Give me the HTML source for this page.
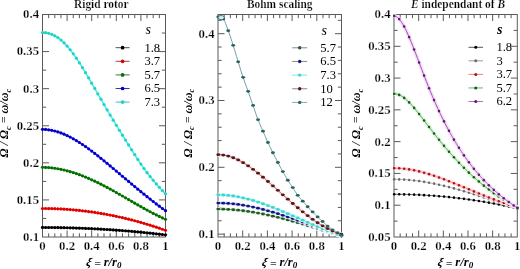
<!DOCTYPE html>
<html><head><meta charset="utf-8"><style>
html,body{margin:0;padding:0;background:#fff;}
svg{display:block;}
</style></head><body>
<svg width="520" height="269" viewBox="0 0 520 269">
<rect width="520" height="269" fill="#fff"/>
<g stroke="#5a5a5a" stroke-width="1" fill="none">
<line x1="48.65" y1="237.0" x2="48.65" y2="233.3"/>
<line x1="48.65" y1="14.5" x2="48.65" y2="18.2"/>
<line x1="54.80" y1="237.0" x2="54.80" y2="233.3"/>
<line x1="54.80" y1="14.5" x2="54.80" y2="18.2"/>
<line x1="60.95" y1="237.0" x2="60.95" y2="233.3"/>
<line x1="60.95" y1="14.5" x2="60.95" y2="18.2"/>
<line x1="67.10" y1="237.0" x2="67.10" y2="230.5"/>
<line x1="67.10" y1="14.5" x2="67.10" y2="21.0"/>
<line x1="73.25" y1="237.0" x2="73.25" y2="233.3"/>
<line x1="73.25" y1="14.5" x2="73.25" y2="18.2"/>
<line x1="79.40" y1="237.0" x2="79.40" y2="233.3"/>
<line x1="79.40" y1="14.5" x2="79.40" y2="18.2"/>
<line x1="85.55" y1="237.0" x2="85.55" y2="233.3"/>
<line x1="85.55" y1="14.5" x2="85.55" y2="18.2"/>
<line x1="91.70" y1="237.0" x2="91.70" y2="230.5"/>
<line x1="91.70" y1="14.5" x2="91.70" y2="21.0"/>
<line x1="97.85" y1="237.0" x2="97.85" y2="233.3"/>
<line x1="97.85" y1="14.5" x2="97.85" y2="18.2"/>
<line x1="104.00" y1="237.0" x2="104.00" y2="233.3"/>
<line x1="104.00" y1="14.5" x2="104.00" y2="18.2"/>
<line x1="110.15" y1="237.0" x2="110.15" y2="233.3"/>
<line x1="110.15" y1="14.5" x2="110.15" y2="18.2"/>
<line x1="116.30" y1="237.0" x2="116.30" y2="230.5"/>
<line x1="116.30" y1="14.5" x2="116.30" y2="21.0"/>
<line x1="122.45" y1="237.0" x2="122.45" y2="233.3"/>
<line x1="122.45" y1="14.5" x2="122.45" y2="18.2"/>
<line x1="128.60" y1="237.0" x2="128.60" y2="233.3"/>
<line x1="128.60" y1="14.5" x2="128.60" y2="18.2"/>
<line x1="134.75" y1="237.0" x2="134.75" y2="233.3"/>
<line x1="134.75" y1="14.5" x2="134.75" y2="18.2"/>
<line x1="140.90" y1="237.0" x2="140.90" y2="230.5"/>
<line x1="140.90" y1="14.5" x2="140.90" y2="21.0"/>
<line x1="147.05" y1="237.0" x2="147.05" y2="233.3"/>
<line x1="147.05" y1="14.5" x2="147.05" y2="18.2"/>
<line x1="153.20" y1="237.0" x2="153.20" y2="233.3"/>
<line x1="153.20" y1="14.5" x2="153.20" y2="18.2"/>
<line x1="159.35" y1="237.0" x2="159.35" y2="233.3"/>
<line x1="159.35" y1="14.5" x2="159.35" y2="18.2"/>
<line x1="42.5" y1="218.46" x2="46.2" y2="218.46"/>
<line x1="165.5" y1="218.46" x2="161.8" y2="218.46"/>
<line x1="42.5" y1="199.92" x2="49.0" y2="199.92"/>
<line x1="165.5" y1="199.92" x2="159.0" y2="199.92"/>
<line x1="42.5" y1="181.38" x2="46.2" y2="181.38"/>
<line x1="165.5" y1="181.38" x2="161.8" y2="181.38"/>
<line x1="42.5" y1="162.83" x2="49.0" y2="162.83"/>
<line x1="165.5" y1="162.83" x2="159.0" y2="162.83"/>
<line x1="42.5" y1="144.29" x2="46.2" y2="144.29"/>
<line x1="165.5" y1="144.29" x2="161.8" y2="144.29"/>
<line x1="42.5" y1="125.75" x2="49.0" y2="125.75"/>
<line x1="165.5" y1="125.75" x2="159.0" y2="125.75"/>
<line x1="42.5" y1="107.21" x2="46.2" y2="107.21"/>
<line x1="165.5" y1="107.21" x2="161.8" y2="107.21"/>
<line x1="42.5" y1="88.67" x2="49.0" y2="88.67"/>
<line x1="165.5" y1="88.67" x2="159.0" y2="88.67"/>
<line x1="42.5" y1="70.13" x2="46.2" y2="70.13"/>
<line x1="165.5" y1="70.13" x2="161.8" y2="70.13"/>
<line x1="42.5" y1="51.58" x2="49.0" y2="51.58"/>
<line x1="165.5" y1="51.58" x2="159.0" y2="51.58"/>
<line x1="42.5" y1="33.04" x2="46.2" y2="33.04"/>
<line x1="165.5" y1="33.04" x2="161.8" y2="33.04"/>
<rect x="42.5" y="14.5" width="123.00" height="222.50" fill="none"/>
</g>
<g stroke="#5a5a5a" stroke-width="1" fill="none">
<line x1="224.18" y1="237.0" x2="224.18" y2="233.3"/>
<line x1="224.18" y1="14.5" x2="224.18" y2="18.2"/>
<line x1="230.35" y1="237.0" x2="230.35" y2="233.3"/>
<line x1="230.35" y1="14.5" x2="230.35" y2="18.2"/>
<line x1="236.53" y1="237.0" x2="236.53" y2="233.3"/>
<line x1="236.53" y1="14.5" x2="236.53" y2="18.2"/>
<line x1="242.70" y1="237.0" x2="242.70" y2="230.5"/>
<line x1="242.70" y1="14.5" x2="242.70" y2="21.0"/>
<line x1="248.88" y1="237.0" x2="248.88" y2="233.3"/>
<line x1="248.88" y1="14.5" x2="248.88" y2="18.2"/>
<line x1="255.05" y1="237.0" x2="255.05" y2="233.3"/>
<line x1="255.05" y1="14.5" x2="255.05" y2="18.2"/>
<line x1="261.23" y1="237.0" x2="261.23" y2="233.3"/>
<line x1="261.23" y1="14.5" x2="261.23" y2="18.2"/>
<line x1="267.40" y1="237.0" x2="267.40" y2="230.5"/>
<line x1="267.40" y1="14.5" x2="267.40" y2="21.0"/>
<line x1="273.57" y1="237.0" x2="273.57" y2="233.3"/>
<line x1="273.57" y1="14.5" x2="273.57" y2="18.2"/>
<line x1="279.75" y1="237.0" x2="279.75" y2="233.3"/>
<line x1="279.75" y1="14.5" x2="279.75" y2="18.2"/>
<line x1="285.93" y1="237.0" x2="285.93" y2="233.3"/>
<line x1="285.93" y1="14.5" x2="285.93" y2="18.2"/>
<line x1="292.10" y1="237.0" x2="292.10" y2="230.5"/>
<line x1="292.10" y1="14.5" x2="292.10" y2="21.0"/>
<line x1="298.27" y1="237.0" x2="298.27" y2="233.3"/>
<line x1="298.27" y1="14.5" x2="298.27" y2="18.2"/>
<line x1="304.45" y1="237.0" x2="304.45" y2="233.3"/>
<line x1="304.45" y1="14.5" x2="304.45" y2="18.2"/>
<line x1="310.62" y1="237.0" x2="310.62" y2="233.3"/>
<line x1="310.62" y1="14.5" x2="310.62" y2="18.2"/>
<line x1="316.80" y1="237.0" x2="316.80" y2="230.5"/>
<line x1="316.80" y1="14.5" x2="316.80" y2="21.0"/>
<line x1="322.98" y1="237.0" x2="322.98" y2="233.3"/>
<line x1="322.98" y1="14.5" x2="322.98" y2="18.2"/>
<line x1="329.15" y1="237.0" x2="329.15" y2="233.3"/>
<line x1="329.15" y1="14.5" x2="329.15" y2="18.2"/>
<line x1="335.32" y1="237.0" x2="335.32" y2="233.3"/>
<line x1="335.32" y1="14.5" x2="335.32" y2="18.2"/>
<line x1="218.0" y1="234.13" x2="224.5" y2="234.13"/>
<line x1="341.5" y1="234.13" x2="335.0" y2="234.13"/>
<line x1="218.0" y1="220.76" x2="221.7" y2="220.76"/>
<line x1="341.5" y1="220.76" x2="337.8" y2="220.76"/>
<line x1="218.0" y1="207.40" x2="221.7" y2="207.40"/>
<line x1="341.5" y1="207.40" x2="337.8" y2="207.40"/>
<line x1="218.0" y1="194.04" x2="221.7" y2="194.04"/>
<line x1="341.5" y1="194.04" x2="337.8" y2="194.04"/>
<line x1="218.0" y1="180.67" x2="221.7" y2="180.67"/>
<line x1="341.5" y1="180.67" x2="337.8" y2="180.67"/>
<line x1="218.0" y1="167.31" x2="224.5" y2="167.31"/>
<line x1="341.5" y1="167.31" x2="335.0" y2="167.31"/>
<line x1="218.0" y1="153.95" x2="221.7" y2="153.95"/>
<line x1="341.5" y1="153.95" x2="337.8" y2="153.95"/>
<line x1="218.0" y1="140.58" x2="221.7" y2="140.58"/>
<line x1="341.5" y1="140.58" x2="337.8" y2="140.58"/>
<line x1="218.0" y1="127.22" x2="221.7" y2="127.22"/>
<line x1="341.5" y1="127.22" x2="337.8" y2="127.22"/>
<line x1="218.0" y1="113.86" x2="221.7" y2="113.86"/>
<line x1="341.5" y1="113.86" x2="337.8" y2="113.86"/>
<line x1="218.0" y1="100.49" x2="224.5" y2="100.49"/>
<line x1="341.5" y1="100.49" x2="335.0" y2="100.49"/>
<line x1="218.0" y1="87.13" x2="221.7" y2="87.13"/>
<line x1="341.5" y1="87.13" x2="337.8" y2="87.13"/>
<line x1="218.0" y1="73.77" x2="221.7" y2="73.77"/>
<line x1="341.5" y1="73.77" x2="337.8" y2="73.77"/>
<line x1="218.0" y1="60.40" x2="221.7" y2="60.40"/>
<line x1="341.5" y1="60.40" x2="337.8" y2="60.40"/>
<line x1="218.0" y1="47.04" x2="221.7" y2="47.04"/>
<line x1="341.5" y1="47.04" x2="337.8" y2="47.04"/>
<line x1="218.0" y1="33.68" x2="224.5" y2="33.68"/>
<line x1="341.5" y1="33.68" x2="335.0" y2="33.68"/>
<line x1="218.0" y1="20.31" x2="221.7" y2="20.31"/>
<line x1="341.5" y1="20.31" x2="337.8" y2="20.31"/>
<rect x="218.0" y="14.5" width="123.50" height="222.50" fill="none"/>
</g>
<g stroke="#5a5a5a" stroke-width="1" fill="none">
<line x1="400.17" y1="237.0" x2="400.17" y2="233.3"/>
<line x1="400.17" y1="14.5" x2="400.17" y2="18.2"/>
<line x1="406.33" y1="237.0" x2="406.33" y2="233.3"/>
<line x1="406.33" y1="14.5" x2="406.33" y2="18.2"/>
<line x1="412.50" y1="237.0" x2="412.50" y2="233.3"/>
<line x1="412.50" y1="14.5" x2="412.50" y2="18.2"/>
<line x1="418.66" y1="237.0" x2="418.66" y2="230.5"/>
<line x1="418.66" y1="14.5" x2="418.66" y2="21.0"/>
<line x1="424.82" y1="237.0" x2="424.82" y2="233.3"/>
<line x1="424.82" y1="14.5" x2="424.82" y2="18.2"/>
<line x1="430.99" y1="237.0" x2="430.99" y2="233.3"/>
<line x1="430.99" y1="14.5" x2="430.99" y2="18.2"/>
<line x1="437.15" y1="237.0" x2="437.15" y2="233.3"/>
<line x1="437.15" y1="14.5" x2="437.15" y2="18.2"/>
<line x1="443.32" y1="237.0" x2="443.32" y2="230.5"/>
<line x1="443.32" y1="14.5" x2="443.32" y2="21.0"/>
<line x1="449.48" y1="237.0" x2="449.48" y2="233.3"/>
<line x1="449.48" y1="14.5" x2="449.48" y2="18.2"/>
<line x1="455.65" y1="237.0" x2="455.65" y2="233.3"/>
<line x1="455.65" y1="14.5" x2="455.65" y2="18.2"/>
<line x1="461.81" y1="237.0" x2="461.81" y2="233.3"/>
<line x1="461.81" y1="14.5" x2="461.81" y2="18.2"/>
<line x1="467.98" y1="237.0" x2="467.98" y2="230.5"/>
<line x1="467.98" y1="14.5" x2="467.98" y2="21.0"/>
<line x1="474.14" y1="237.0" x2="474.14" y2="233.3"/>
<line x1="474.14" y1="14.5" x2="474.14" y2="18.2"/>
<line x1="480.31" y1="237.0" x2="480.31" y2="233.3"/>
<line x1="480.31" y1="14.5" x2="480.31" y2="18.2"/>
<line x1="486.47" y1="237.0" x2="486.47" y2="233.3"/>
<line x1="486.47" y1="14.5" x2="486.47" y2="18.2"/>
<line x1="492.64" y1="237.0" x2="492.64" y2="230.5"/>
<line x1="492.64" y1="14.5" x2="492.64" y2="21.0"/>
<line x1="498.80" y1="237.0" x2="498.80" y2="233.3"/>
<line x1="498.80" y1="14.5" x2="498.80" y2="18.2"/>
<line x1="504.97" y1="237.0" x2="504.97" y2="233.3"/>
<line x1="504.97" y1="14.5" x2="504.97" y2="18.2"/>
<line x1="511.13" y1="237.0" x2="511.13" y2="233.3"/>
<line x1="511.13" y1="14.5" x2="511.13" y2="18.2"/>
<line x1="394.0" y1="221.11" x2="397.7" y2="221.11"/>
<line x1="517.3" y1="221.11" x2="513.5999999999999" y2="221.11"/>
<line x1="394.0" y1="205.21" x2="400.5" y2="205.21"/>
<line x1="517.3" y1="205.21" x2="510.79999999999995" y2="205.21"/>
<line x1="394.0" y1="189.32" x2="397.7" y2="189.32"/>
<line x1="517.3" y1="189.32" x2="513.5999999999999" y2="189.32"/>
<line x1="394.0" y1="173.43" x2="400.5" y2="173.43"/>
<line x1="517.3" y1="173.43" x2="510.79999999999995" y2="173.43"/>
<line x1="394.0" y1="157.54" x2="397.7" y2="157.54"/>
<line x1="517.3" y1="157.54" x2="513.5999999999999" y2="157.54"/>
<line x1="394.0" y1="141.64" x2="400.5" y2="141.64"/>
<line x1="517.3" y1="141.64" x2="510.79999999999995" y2="141.64"/>
<line x1="394.0" y1="125.75" x2="397.7" y2="125.75"/>
<line x1="517.3" y1="125.75" x2="513.5999999999999" y2="125.75"/>
<line x1="394.0" y1="109.86" x2="400.5" y2="109.86"/>
<line x1="517.3" y1="109.86" x2="510.79999999999995" y2="109.86"/>
<line x1="394.0" y1="93.96" x2="397.7" y2="93.96"/>
<line x1="517.3" y1="93.96" x2="513.5999999999999" y2="93.96"/>
<line x1="394.0" y1="78.07" x2="400.5" y2="78.07"/>
<line x1="517.3" y1="78.07" x2="510.79999999999995" y2="78.07"/>
<line x1="394.0" y1="62.18" x2="397.7" y2="62.18"/>
<line x1="517.3" y1="62.18" x2="513.5999999999999" y2="62.18"/>
<line x1="394.0" y1="46.29" x2="400.5" y2="46.29"/>
<line x1="517.3" y1="46.29" x2="510.79999999999995" y2="46.29"/>
<line x1="394.0" y1="30.39" x2="397.7" y2="30.39"/>
<line x1="517.3" y1="30.39" x2="513.5999999999999" y2="30.39"/>
<rect x="394.0" y="14.5" width="123.30" height="222.50" fill="none"/>
</g>
<polyline points="42.50,227.47 43.01,227.47 43.52,227.47 44.04,227.47 44.55,227.47 45.06,227.48 45.58,227.48 46.09,227.48 46.60,227.48 47.11,227.48 47.62,227.48 48.14,227.49 48.65,227.49 49.16,227.49 49.67,227.50 50.19,227.50 50.70,227.50 51.21,227.51 51.73,227.51 52.24,227.52 52.75,227.52 53.26,227.53 53.77,227.53 54.29,227.54 54.80,227.55 55.31,227.55 55.83,227.56 56.34,227.57 56.85,227.57 57.36,227.58 57.88,227.59 58.39,227.60 58.90,227.60 59.41,227.61 59.92,227.62 60.44,227.63 60.95,227.64 61.46,227.65 61.97,227.66 62.49,227.67 63.00,227.68 63.51,227.69 64.03,227.70 64.54,227.71 65.05,227.72 65.56,227.73 66.08,227.74 66.59,227.76 67.10,227.77 67.61,227.78 68.12,227.79 68.64,227.81 69.15,227.82 69.66,227.83 70.17,227.85 70.69,227.86 71.20,227.87 71.71,227.89 72.22,227.90 72.74,227.92 73.25,227.93 73.76,227.95 74.27,227.97 74.79,227.98 75.30,228.00 75.81,228.01 76.33,228.03 76.84,228.05 77.35,228.07 77.86,228.08 78.38,228.10 78.89,228.12 79.40,228.14 79.91,228.16 80.43,228.18 80.94,228.19 81.45,228.21 81.96,228.23 82.47,228.25 82.99,228.27 83.50,228.29 84.01,228.31 84.53,228.34 85.04,228.36 85.55,228.38 86.06,228.40 86.58,228.42 87.09,228.44 87.60,228.47 88.11,228.49 88.62,228.51 89.14,228.54 89.65,228.56 90.16,228.58 90.67,228.61 91.19,228.63 91.70,228.66 92.21,228.68 92.72,228.71 93.24,228.73 93.75,228.76 94.26,228.78 94.78,228.81 95.29,228.83 95.80,228.86 96.31,228.89 96.82,228.92 97.34,228.94 97.85,228.97 98.36,229.00 98.88,229.03 99.39,229.05 99.90,229.08 100.41,229.11 100.92,229.14 101.44,229.17 101.95,229.20 102.46,229.23 102.97,229.26 103.49,229.29 104.00,229.32 104.51,229.35 105.03,229.38 105.54,229.42 106.05,229.45 106.56,229.48 107.08,229.51 107.59,229.54 108.10,229.58 108.61,229.61 109.12,229.64 109.64,229.68 110.15,229.71 110.66,229.74 111.17,229.78 111.69,229.81 112.20,229.85 112.71,229.88 113.22,229.92 113.74,229.95 114.25,229.99 114.76,230.03 115.28,230.06 115.79,230.10 116.30,230.14 116.81,230.17 117.32,230.21 117.84,230.25 118.35,230.29 118.86,230.32 119.38,230.36 119.89,230.40 120.40,230.44 120.91,230.48 121.42,230.52 121.94,230.56 122.45,230.60 122.96,230.64 123.47,230.68 123.99,230.72 124.50,230.76 125.01,230.80 125.53,230.84 126.04,230.88 126.55,230.93 127.06,230.97 127.58,231.01 128.09,231.05 128.60,231.10 129.11,231.14 129.62,231.18 130.14,231.23 130.65,231.27 131.16,231.32 131.68,231.36 132.19,231.41 132.70,231.45 133.21,231.50 133.73,231.54 134.24,231.59 134.75,231.63 135.26,231.68 135.77,231.73 136.29,231.77 136.80,231.82 137.31,231.87 137.82,231.92 138.34,231.96 138.85,232.01 139.36,232.06 139.88,232.11 140.39,232.16 140.90,232.21 141.41,232.26 141.93,232.31 142.44,232.36 142.95,232.41 143.46,232.46 143.97,232.51 144.49,232.56 145.00,232.61 145.51,232.66 146.03,232.71 146.54,232.77 147.05,232.82 147.56,232.87 148.07,232.92 148.59,232.98 149.10,233.03 149.61,233.08 150.12,233.14 150.64,233.19 151.15,233.25 151.66,233.30 152.18,233.35 152.69,233.41 153.20,233.47 153.71,233.52 154.22,233.58 154.74,233.63 155.25,233.69 155.76,233.75 156.27,233.80 156.79,233.86 157.30,233.92 157.81,233.98 158.32,234.03 158.84,234.09 159.35,234.15 159.86,234.21 160.38,234.27 160.89,234.33 161.40,234.39 161.91,234.45 162.43,234.51 162.94,234.57 163.45,234.63 163.96,234.69 164.48,234.75 164.99,234.81 165.50,234.87" fill="none" stroke="#000000" stroke-width="1.5"/>
<ellipse cx="42.50" cy="227.47" rx="1.6" ry="1.6" fill="#000000"/>
<ellipse cx="45.58" cy="227.48" rx="1.6" ry="1.6" fill="#000000"/>
<ellipse cx="48.65" cy="227.49" rx="1.6" ry="1.6" fill="#000000"/>
<ellipse cx="51.73" cy="227.51" rx="1.6" ry="1.6" fill="#000000"/>
<ellipse cx="54.80" cy="227.55" rx="1.6" ry="1.6" fill="#000000"/>
<ellipse cx="57.88" cy="227.59" rx="1.6" ry="1.6" fill="#000000"/>
<ellipse cx="60.95" cy="227.64" rx="1.6" ry="1.6" fill="#000000"/>
<ellipse cx="64.03" cy="227.70" rx="1.6" ry="1.6" fill="#000000"/>
<ellipse cx="67.10" cy="227.77" rx="1.6" ry="1.6" fill="#000000"/>
<ellipse cx="70.17" cy="227.85" rx="1.6" ry="1.6" fill="#000000"/>
<ellipse cx="73.25" cy="227.93" rx="1.6" ry="1.6" fill="#000000"/>
<ellipse cx="76.33" cy="228.03" rx="1.6" ry="1.6" fill="#000000"/>
<ellipse cx="79.40" cy="228.14" rx="1.6" ry="1.6" fill="#000000"/>
<ellipse cx="82.47" cy="228.25" rx="1.6" ry="1.6" fill="#000000"/>
<ellipse cx="85.55" cy="228.38" rx="1.6" ry="1.6" fill="#000000"/>
<ellipse cx="88.62" cy="228.51" rx="1.6" ry="1.6" fill="#000000"/>
<ellipse cx="91.70" cy="228.66" rx="1.6" ry="1.6" fill="#000000"/>
<ellipse cx="94.78" cy="228.81" rx="1.6" ry="1.6" fill="#000000"/>
<ellipse cx="97.85" cy="228.97" rx="1.6" ry="1.6" fill="#000000"/>
<ellipse cx="100.93" cy="229.14" rx="1.6" ry="1.6" fill="#000000"/>
<ellipse cx="104.00" cy="229.32" rx="1.6" ry="1.6" fill="#000000"/>
<ellipse cx="107.08" cy="229.51" rx="1.6" ry="1.6" fill="#000000"/>
<ellipse cx="110.15" cy="229.71" rx="1.6" ry="1.6" fill="#000000"/>
<ellipse cx="113.23" cy="229.92" rx="1.6" ry="1.6" fill="#000000"/>
<ellipse cx="116.30" cy="230.14" rx="1.6" ry="1.6" fill="#000000"/>
<ellipse cx="119.38" cy="230.36" rx="1.6" ry="1.6" fill="#000000"/>
<ellipse cx="122.45" cy="230.60" rx="1.6" ry="1.6" fill="#000000"/>
<ellipse cx="125.53" cy="230.84" rx="1.6" ry="1.6" fill="#000000"/>
<ellipse cx="128.60" cy="231.10" rx="1.6" ry="1.6" fill="#000000"/>
<ellipse cx="131.68" cy="231.36" rx="1.6" ry="1.6" fill="#000000"/>
<ellipse cx="134.75" cy="231.63" rx="1.6" ry="1.6" fill="#000000"/>
<ellipse cx="137.82" cy="231.92" rx="1.6" ry="1.6" fill="#000000"/>
<ellipse cx="140.90" cy="232.21" rx="1.6" ry="1.6" fill="#000000"/>
<ellipse cx="143.98" cy="232.51" rx="1.6" ry="1.6" fill="#000000"/>
<ellipse cx="147.05" cy="232.82" rx="1.6" ry="1.6" fill="#000000"/>
<ellipse cx="150.12" cy="233.14" rx="1.6" ry="1.6" fill="#000000"/>
<ellipse cx="153.20" cy="233.47" rx="1.6" ry="1.6" fill="#000000"/>
<ellipse cx="156.28" cy="233.80" rx="1.6" ry="1.6" fill="#000000"/>
<ellipse cx="159.35" cy="234.15" rx="1.6" ry="1.6" fill="#000000"/>
<ellipse cx="162.43" cy="234.51" rx="1.6" ry="1.6" fill="#000000"/>
<ellipse cx="165.50" cy="234.87" rx="1.6" ry="1.6" fill="#000000"/>
<polyline points="42.50,208.48 43.01,208.48 43.52,208.48 44.04,208.48 44.55,208.48 45.06,208.49 45.58,208.49 46.09,208.49 46.60,208.50 47.11,208.51 47.62,208.51 48.14,208.52 48.65,208.53 49.16,208.54 49.67,208.55 50.19,208.56 50.70,208.57 51.21,208.59 51.73,208.60 52.24,208.61 52.75,208.63 53.26,208.64 53.77,208.66 54.29,208.68 54.80,208.69 55.31,208.71 55.83,208.73 56.34,208.75 56.85,208.77 57.36,208.79 57.88,208.82 58.39,208.84 58.90,208.86 59.41,208.89 59.92,208.91 60.44,208.94 60.95,208.97 61.46,208.99 61.97,209.02 62.49,209.05 63.00,209.08 63.51,209.11 64.03,209.14 64.54,209.18 65.05,209.21 65.56,209.24 66.08,209.28 66.59,209.31 67.10,209.35 67.61,209.39 68.12,209.42 68.64,209.46 69.15,209.50 69.66,209.54 70.17,209.58 70.69,209.62 71.20,209.66 71.71,209.71 72.22,209.75 72.74,209.80 73.25,209.84 73.76,209.89 74.27,209.93 74.79,209.98 75.30,210.03 75.81,210.08 76.33,210.13 76.84,210.18 77.35,210.23 77.86,210.28 78.38,210.33 78.89,210.39 79.40,210.44 79.91,210.50 80.43,210.55 80.94,210.61 81.45,210.67 81.96,210.72 82.47,210.78 82.99,210.84 83.50,210.90 84.01,210.96 84.53,211.02 85.04,211.09 85.55,211.15 86.06,211.21 86.58,211.28 87.09,211.35 87.60,211.41 88.11,211.48 88.62,211.55 89.14,211.62 89.65,211.68 90.16,211.75 90.67,211.83 91.19,211.90 91.70,211.97 92.21,212.04 92.72,212.12 93.24,212.19 93.75,212.27 94.26,212.34 94.78,212.42 95.29,212.50 95.80,212.58 96.31,212.66 96.82,212.74 97.34,212.82 97.85,212.90 98.36,212.98 98.88,213.06 99.39,213.15 99.90,213.23 100.41,213.32 100.92,213.40 101.44,213.49 101.95,213.58 102.46,213.67 102.97,213.75 103.49,213.84 104.00,213.94 104.51,214.03 105.03,214.12 105.54,214.21 106.05,214.31 106.56,214.40 107.08,214.49 107.59,214.59 108.10,214.69 108.61,214.78 109.12,214.88 109.64,214.98 110.15,215.08 110.66,215.18 111.17,215.28 111.69,215.39 112.20,215.49 112.71,215.59 113.22,215.70 113.74,215.80 114.25,215.91 114.76,216.01 115.28,216.12 115.79,216.23 116.30,216.34 116.81,216.45 117.32,216.56 117.84,216.67 118.35,216.78 118.86,216.89 119.38,217.01 119.89,217.12 120.40,217.24 120.91,217.35 121.42,217.47 121.94,217.58 122.45,217.70 122.96,217.82 123.47,217.94 123.99,218.06 124.50,218.18 125.01,218.30 125.53,218.43 126.04,218.55 126.55,218.67 127.06,218.80 127.58,218.92 128.09,219.05 128.60,219.18 129.11,219.30 129.62,219.43 130.14,219.56 130.65,219.69 131.16,219.82 131.68,219.95 132.19,220.09 132.70,220.22 133.21,220.35 133.73,220.49 134.24,220.62 134.75,220.76 135.26,220.90 135.77,221.03 136.29,221.17 136.80,221.31 137.31,221.45 137.82,221.59 138.34,221.73 138.85,221.88 139.36,222.02 139.88,222.16 140.39,222.31 140.90,222.45 141.41,222.60 141.93,222.74 142.44,222.89 142.95,223.04 143.46,223.19 143.97,223.34 144.49,223.49 145.00,223.64 145.51,223.79 146.03,223.95 146.54,224.10 147.05,224.25 147.56,224.41 148.07,224.56 148.59,224.72 149.10,224.88 149.61,225.04 150.12,225.20 150.64,225.36 151.15,225.52 151.66,225.68 152.18,225.84 152.69,226.00 153.20,226.16 153.71,226.33 154.22,226.49 154.74,226.66 155.25,226.83 155.76,226.99 156.27,227.16 156.79,227.33 157.30,227.50 157.81,227.67 158.32,227.84 158.84,228.01 159.35,228.18 159.86,228.36 160.38,228.53 160.89,228.71 161.40,228.88 161.91,229.06 162.43,229.24 162.94,229.41 163.45,229.59 163.96,229.77 164.48,229.95 164.99,230.13 165.50,230.31" fill="none" stroke="#ff1818" stroke-width="1.5"/>
<ellipse cx="42.50" cy="208.48" rx="1.6" ry="1.6" fill="#e00000"/>
<ellipse cx="45.58" cy="208.49" rx="1.6" ry="1.6" fill="#e00000"/>
<ellipse cx="48.65" cy="208.53" rx="1.6" ry="1.6" fill="#e00000"/>
<ellipse cx="51.73" cy="208.60" rx="1.6" ry="1.6" fill="#e00000"/>
<ellipse cx="54.80" cy="208.69" rx="1.6" ry="1.6" fill="#e00000"/>
<ellipse cx="57.88" cy="208.82" rx="1.6" ry="1.6" fill="#e00000"/>
<ellipse cx="60.95" cy="208.97" rx="1.6" ry="1.6" fill="#e00000"/>
<ellipse cx="64.03" cy="209.14" rx="1.6" ry="1.6" fill="#e00000"/>
<ellipse cx="67.10" cy="209.35" rx="1.6" ry="1.6" fill="#e00000"/>
<ellipse cx="70.17" cy="209.58" rx="1.6" ry="1.6" fill="#e00000"/>
<ellipse cx="73.25" cy="209.84" rx="1.6" ry="1.6" fill="#e00000"/>
<ellipse cx="76.33" cy="210.13" rx="1.6" ry="1.6" fill="#e00000"/>
<ellipse cx="79.40" cy="210.44" rx="1.6" ry="1.6" fill="#e00000"/>
<ellipse cx="82.47" cy="210.78" rx="1.6" ry="1.6" fill="#e00000"/>
<ellipse cx="85.55" cy="211.15" rx="1.6" ry="1.6" fill="#e00000"/>
<ellipse cx="88.62" cy="211.55" rx="1.6" ry="1.6" fill="#e00000"/>
<ellipse cx="91.70" cy="211.97" rx="1.6" ry="1.6" fill="#e00000"/>
<ellipse cx="94.78" cy="212.42" rx="1.6" ry="1.6" fill="#e00000"/>
<ellipse cx="97.85" cy="212.90" rx="1.6" ry="1.6" fill="#e00000"/>
<ellipse cx="100.93" cy="213.40" rx="1.6" ry="1.6" fill="#e00000"/>
<ellipse cx="104.00" cy="213.94" rx="1.6" ry="1.6" fill="#e00000"/>
<ellipse cx="107.08" cy="214.49" rx="1.6" ry="1.6" fill="#e00000"/>
<ellipse cx="110.15" cy="215.08" rx="1.6" ry="1.6" fill="#e00000"/>
<ellipse cx="113.23" cy="215.70" rx="1.6" ry="1.6" fill="#e00000"/>
<ellipse cx="116.30" cy="216.34" rx="1.6" ry="1.6" fill="#e00000"/>
<ellipse cx="119.38" cy="217.01" rx="1.6" ry="1.6" fill="#e00000"/>
<ellipse cx="122.45" cy="217.70" rx="1.6" ry="1.6" fill="#e00000"/>
<ellipse cx="125.53" cy="218.43" rx="1.6" ry="1.6" fill="#e00000"/>
<ellipse cx="128.60" cy="219.18" rx="1.6" ry="1.6" fill="#e00000"/>
<ellipse cx="131.68" cy="219.95" rx="1.6" ry="1.6" fill="#e00000"/>
<ellipse cx="134.75" cy="220.76" rx="1.6" ry="1.6" fill="#e00000"/>
<ellipse cx="137.82" cy="221.59" rx="1.6" ry="1.6" fill="#e00000"/>
<ellipse cx="140.90" cy="222.45" rx="1.6" ry="1.6" fill="#e00000"/>
<ellipse cx="143.98" cy="223.34" rx="1.6" ry="1.6" fill="#e00000"/>
<ellipse cx="147.05" cy="224.25" rx="1.6" ry="1.6" fill="#e00000"/>
<ellipse cx="150.12" cy="225.20" rx="1.6" ry="1.6" fill="#e00000"/>
<ellipse cx="153.20" cy="226.16" rx="1.6" ry="1.6" fill="#e00000"/>
<ellipse cx="156.28" cy="227.16" rx="1.6" ry="1.6" fill="#e00000"/>
<ellipse cx="159.35" cy="228.18" rx="1.6" ry="1.6" fill="#e00000"/>
<ellipse cx="162.43" cy="229.24" rx="1.6" ry="1.6" fill="#e00000"/>
<ellipse cx="165.50" cy="230.31" rx="1.6" ry="1.6" fill="#e00000"/>
<polyline points="42.50,167.35 43.01,167.36 43.52,167.36 44.04,167.37 44.55,167.38 45.06,167.40 45.58,167.42 46.09,167.44 46.60,167.46 47.11,167.49 47.62,167.52 48.14,167.55 48.65,167.59 49.16,167.63 49.67,167.67 50.19,167.72 50.70,167.76 51.21,167.82 51.73,167.87 52.24,167.93 52.75,167.99 53.26,168.05 53.77,168.12 54.29,168.18 54.80,168.26 55.31,168.33 55.83,168.41 56.34,168.49 56.85,168.57 57.36,168.66 57.88,168.74 58.39,168.84 58.90,168.93 59.41,169.03 59.92,169.12 60.44,169.23 60.95,169.33 61.46,169.44 61.97,169.55 62.49,169.66 63.00,169.77 63.51,169.89 64.03,170.01 64.54,170.13 65.05,170.26 65.56,170.39 66.08,170.52 66.59,170.65 67.10,170.78 67.61,170.92 68.12,171.06 68.64,171.20 69.15,171.34 69.66,171.49 70.17,171.64 70.69,171.79 71.20,171.95 71.71,172.10 72.22,172.26 72.74,172.42 73.25,172.58 73.76,172.75 74.27,172.91 74.79,173.08 75.30,173.25 75.81,173.43 76.33,173.60 76.84,173.78 77.35,173.96 77.86,174.14 78.38,174.33 78.89,174.51 79.40,174.70 79.91,174.89 80.43,175.08 80.94,175.28 81.45,175.47 81.96,175.67 82.47,175.87 82.99,176.07 83.50,176.28 84.01,176.48 84.53,176.69 85.04,176.90 85.55,177.11 86.06,177.32 86.58,177.54 87.09,177.75 87.60,177.97 88.11,178.19 88.62,178.41 89.14,178.64 89.65,178.86 90.16,179.09 90.67,179.32 91.19,179.55 91.70,179.78 92.21,180.01 92.72,180.25 93.24,180.48 93.75,180.72 94.26,180.96 94.78,181.20 95.29,181.44 95.80,181.69 96.31,181.93 96.82,182.18 97.34,182.43 97.85,182.68 98.36,182.93 98.88,183.18 99.39,183.44 99.90,183.69 100.41,183.95 100.92,184.21 101.44,184.47 101.95,184.73 102.46,184.99 102.97,185.25 103.49,185.52 104.00,185.78 104.51,186.05 105.03,186.32 105.54,186.59 106.05,186.86 106.56,187.13 107.08,187.40 107.59,187.68 108.10,187.95 108.61,188.23 109.12,188.51 109.64,188.78 110.15,189.06 110.66,189.34 111.17,189.62 111.69,189.91 112.20,190.19 112.71,190.47 113.22,190.76 113.74,191.04 114.25,191.33 114.76,191.62 115.28,191.91 115.79,192.20 116.30,192.49 116.81,192.78 117.32,193.07 117.84,193.36 118.35,193.65 118.86,193.94 119.38,194.24 119.89,194.53 120.40,194.83 120.91,195.12 121.42,195.42 121.94,195.71 122.45,196.01 122.96,196.30 123.47,196.60 123.99,196.90 124.50,197.20 125.01,197.49 125.53,197.79 126.04,198.09 126.55,198.39 127.06,198.69 127.58,198.98 128.09,199.28 128.60,199.58 129.11,199.88 129.62,200.18 130.14,200.48 130.65,200.77 131.16,201.07 131.68,201.37 132.19,201.67 132.70,201.97 133.21,202.26 133.73,202.56 134.24,202.86 134.75,203.15 135.26,203.45 135.77,203.75 136.29,204.04 136.80,204.34 137.31,204.63 137.82,204.93 138.34,205.22 138.85,205.51 139.36,205.80 139.88,206.10 140.39,206.39 140.90,206.68 141.41,206.97 141.93,207.26 142.44,207.54 142.95,207.83 143.46,208.12 143.97,208.41 144.49,208.69 145.00,208.97 145.51,209.26 146.03,209.54 146.54,209.82 147.05,210.10 147.56,210.38 148.07,210.66 148.59,210.94 149.10,211.21 149.61,211.49 150.12,211.76 150.64,212.03 151.15,212.30 151.66,212.57 152.18,212.84 152.69,213.11 153.20,213.38 153.71,213.64 154.22,213.90 154.74,214.17 155.25,214.43 155.76,214.68 156.27,214.94 156.79,215.20 157.30,215.45 157.81,215.70 158.32,215.95 158.84,216.20 159.35,216.45 159.86,216.70 160.38,216.94 160.89,217.18 161.40,217.42 161.91,217.66 162.43,217.90 162.94,218.13 163.45,218.36 163.96,218.59 164.48,218.82 164.99,219.05 165.50,219.27" fill="none" stroke="#109a10" stroke-width="1.5"/>
<ellipse cx="42.50" cy="167.35" rx="1.6" ry="1.6" fill="#007000"/>
<ellipse cx="45.58" cy="167.42" rx="1.6" ry="1.6" fill="#007000"/>
<ellipse cx="48.65" cy="167.59" rx="1.6" ry="1.6" fill="#007000"/>
<ellipse cx="51.73" cy="167.87" rx="1.6" ry="1.6" fill="#007000"/>
<ellipse cx="54.80" cy="168.26" rx="1.6" ry="1.6" fill="#007000"/>
<ellipse cx="57.88" cy="168.74" rx="1.6" ry="1.6" fill="#007000"/>
<ellipse cx="60.95" cy="169.33" rx="1.6" ry="1.6" fill="#007000"/>
<ellipse cx="64.03" cy="170.01" rx="1.6" ry="1.6" fill="#007000"/>
<ellipse cx="67.10" cy="170.78" rx="1.6" ry="1.6" fill="#007000"/>
<ellipse cx="70.17" cy="171.64" rx="1.6" ry="1.6" fill="#007000"/>
<ellipse cx="73.25" cy="172.58" rx="1.6" ry="1.6" fill="#007000"/>
<ellipse cx="76.33" cy="173.60" rx="1.6" ry="1.6" fill="#007000"/>
<ellipse cx="79.40" cy="174.70" rx="1.6" ry="1.6" fill="#007000"/>
<ellipse cx="82.47" cy="175.87" rx="1.6" ry="1.6" fill="#007000"/>
<ellipse cx="85.55" cy="177.11" rx="1.6" ry="1.6" fill="#007000"/>
<ellipse cx="88.62" cy="178.41" rx="1.6" ry="1.6" fill="#007000"/>
<ellipse cx="91.70" cy="179.78" rx="1.6" ry="1.6" fill="#007000"/>
<ellipse cx="94.78" cy="181.20" rx="1.6" ry="1.6" fill="#007000"/>
<ellipse cx="97.85" cy="182.68" rx="1.6" ry="1.6" fill="#007000"/>
<ellipse cx="100.93" cy="184.21" rx="1.6" ry="1.6" fill="#007000"/>
<ellipse cx="104.00" cy="185.78" rx="1.6" ry="1.6" fill="#007000"/>
<ellipse cx="107.08" cy="187.40" rx="1.6" ry="1.6" fill="#007000"/>
<ellipse cx="110.15" cy="189.06" rx="1.6" ry="1.6" fill="#007000"/>
<ellipse cx="113.23" cy="190.76" rx="1.6" ry="1.6" fill="#007000"/>
<ellipse cx="116.30" cy="192.49" rx="1.6" ry="1.6" fill="#007000"/>
<ellipse cx="119.38" cy="194.24" rx="1.6" ry="1.6" fill="#007000"/>
<ellipse cx="122.45" cy="196.01" rx="1.6" ry="1.6" fill="#007000"/>
<ellipse cx="125.53" cy="197.79" rx="1.6" ry="1.6" fill="#007000"/>
<ellipse cx="128.60" cy="199.58" rx="1.6" ry="1.6" fill="#007000"/>
<ellipse cx="131.68" cy="201.37" rx="1.6" ry="1.6" fill="#007000"/>
<ellipse cx="134.75" cy="203.15" rx="1.6" ry="1.6" fill="#007000"/>
<ellipse cx="137.82" cy="204.93" rx="1.6" ry="1.6" fill="#007000"/>
<ellipse cx="140.90" cy="206.68" rx="1.6" ry="1.6" fill="#007000"/>
<ellipse cx="143.98" cy="208.41" rx="1.6" ry="1.6" fill="#007000"/>
<ellipse cx="147.05" cy="210.10" rx="1.6" ry="1.6" fill="#007000"/>
<ellipse cx="150.12" cy="211.76" rx="1.6" ry="1.6" fill="#007000"/>
<ellipse cx="153.20" cy="213.38" rx="1.6" ry="1.6" fill="#007000"/>
<ellipse cx="156.28" cy="214.94" rx="1.6" ry="1.6" fill="#007000"/>
<ellipse cx="159.35" cy="216.45" rx="1.6" ry="1.6" fill="#007000"/>
<ellipse cx="162.43" cy="217.90" rx="1.6" ry="1.6" fill="#007000"/>
<ellipse cx="165.50" cy="219.27" rx="1.6" ry="1.6" fill="#007000"/>
<polyline points="42.50,129.37 43.01,129.37 43.52,129.38 44.04,129.39 44.55,129.41 45.06,129.44 45.58,129.47 46.09,129.51 46.60,129.55 47.11,129.60 47.62,129.66 48.14,129.72 48.65,129.79 49.16,129.86 49.67,129.94 50.19,130.02 50.70,130.11 51.21,130.21 51.73,130.31 52.24,130.41 52.75,130.52 53.26,130.64 53.77,130.76 54.29,130.88 54.80,131.02 55.31,131.15 55.83,131.29 56.34,131.44 56.85,131.59 57.36,131.75 57.88,131.91 58.39,132.07 58.90,132.24 59.41,132.42 59.92,132.60 60.44,132.78 60.95,132.97 61.46,133.17 61.97,133.36 62.49,133.57 63.00,133.77 63.51,133.99 64.03,134.20 64.54,134.42 65.05,134.65 65.56,134.88 66.08,135.11 66.59,135.34 67.10,135.59 67.61,135.83 68.12,136.08 68.64,136.33 69.15,136.59 69.66,136.85 70.17,137.11 70.69,137.38 71.20,137.65 71.71,137.93 72.22,138.21 72.74,138.49 73.25,138.78 73.76,139.07 74.27,139.36 74.79,139.66 75.30,139.96 75.81,140.26 76.33,140.57 76.84,140.88 77.35,141.19 77.86,141.51 78.38,141.83 78.89,142.15 79.40,142.48 79.91,142.81 80.43,143.14 80.94,143.47 81.45,143.81 81.96,144.15 82.47,144.49 82.99,144.84 83.50,145.19 84.01,145.54 84.53,145.89 85.04,146.25 85.55,146.61 86.06,146.97 86.58,147.33 87.09,147.70 87.60,148.06 88.11,148.43 88.62,148.81 89.14,149.18 89.65,149.56 90.16,149.94 90.67,150.32 91.19,150.70 91.70,151.09 92.21,151.48 92.72,151.86 93.24,152.26 93.75,152.65 94.26,153.04 94.78,153.44 95.29,153.84 95.80,154.24 96.31,154.64 96.82,155.04 97.34,155.45 97.85,155.85 98.36,156.26 98.88,156.67 99.39,157.08 99.90,157.49 100.41,157.90 100.92,158.31 101.44,158.73 101.95,159.14 102.46,159.56 102.97,159.98 103.49,160.40 104.00,160.82 104.51,161.24 105.03,161.66 105.54,162.08 106.05,162.51 106.56,162.93 107.08,163.36 107.59,163.78 108.10,164.21 108.61,164.63 109.12,165.06 109.64,165.49 110.15,165.92 110.66,166.34 111.17,166.77 111.69,167.20 112.20,167.63 112.71,168.06 113.22,168.49 113.74,168.92 114.25,169.35 114.76,169.78 115.28,170.21 115.79,170.64 116.30,171.08 116.81,171.51 117.32,171.94 117.84,172.37 118.35,172.80 118.86,173.24 119.38,173.67 119.89,174.10 120.40,174.53 120.91,174.97 121.42,175.40 121.94,175.83 122.45,176.26 122.96,176.70 123.47,177.13 123.99,177.56 124.50,177.99 125.01,178.43 125.53,178.86 126.04,179.29 126.55,179.72 127.06,180.15 127.58,180.58 128.09,181.02 128.60,181.45 129.11,181.88 129.62,182.31 130.14,182.74 130.65,183.17 131.16,183.60 131.68,184.03 132.19,184.46 132.70,184.88 133.21,185.31 133.73,185.74 134.24,186.17 134.75,186.59 135.26,187.02 135.77,187.45 136.29,187.87 136.80,188.30 137.31,188.72 137.82,189.15 138.34,189.57 138.85,189.99 139.36,190.41 139.88,190.83 140.39,191.26 140.90,191.68 141.41,192.09 141.93,192.51 142.44,192.93 142.95,193.35 143.46,193.77 143.97,194.18 144.49,194.60 145.00,195.01 145.51,195.42 146.03,195.84 146.54,196.25 147.05,196.66 147.56,197.07 148.07,197.48 148.59,197.89 149.10,198.29 149.61,198.70 150.12,199.10 150.64,199.51 151.15,199.91 151.66,200.31 152.18,200.72 152.69,201.12 153.20,201.51 153.71,201.91 154.22,202.31 154.74,202.70 155.25,203.10 155.76,203.49 156.27,203.88 156.79,204.28 157.30,204.66 157.81,205.05 158.32,205.44 158.84,205.83 159.35,206.21 159.86,206.59 160.38,206.98 160.89,207.36 161.40,207.74 161.91,208.11 162.43,208.49 162.94,208.86 163.45,209.24 163.96,209.61 164.48,209.98 164.99,210.35 165.50,210.72" fill="none" stroke="#1818ff" stroke-width="1.5"/>
<ellipse cx="42.50" cy="129.37" rx="1.6" ry="1.6" fill="#0000c8"/>
<ellipse cx="45.58" cy="129.47" rx="1.6" ry="1.6" fill="#0000c8"/>
<ellipse cx="48.65" cy="129.79" rx="1.6" ry="1.6" fill="#0000c8"/>
<ellipse cx="51.73" cy="130.31" rx="1.6" ry="1.6" fill="#0000c8"/>
<ellipse cx="54.80" cy="131.02" rx="1.6" ry="1.6" fill="#0000c8"/>
<ellipse cx="57.88" cy="131.91" rx="1.6" ry="1.6" fill="#0000c8"/>
<ellipse cx="60.95" cy="132.97" rx="1.6" ry="1.6" fill="#0000c8"/>
<ellipse cx="64.03" cy="134.20" rx="1.6" ry="1.6" fill="#0000c8"/>
<ellipse cx="67.10" cy="135.59" rx="1.6" ry="1.6" fill="#0000c8"/>
<ellipse cx="70.17" cy="137.11" rx="1.6" ry="1.6" fill="#0000c8"/>
<ellipse cx="73.25" cy="138.78" rx="1.6" ry="1.6" fill="#0000c8"/>
<ellipse cx="76.33" cy="140.57" rx="1.6" ry="1.6" fill="#0000c8"/>
<ellipse cx="79.40" cy="142.48" rx="1.6" ry="1.6" fill="#0000c8"/>
<ellipse cx="82.47" cy="144.49" rx="1.6" ry="1.6" fill="#0000c8"/>
<ellipse cx="85.55" cy="146.61" rx="1.6" ry="1.6" fill="#0000c8"/>
<ellipse cx="88.62" cy="148.81" rx="1.6" ry="1.6" fill="#0000c8"/>
<ellipse cx="91.70" cy="151.09" rx="1.6" ry="1.6" fill="#0000c8"/>
<ellipse cx="94.78" cy="153.44" rx="1.6" ry="1.6" fill="#0000c8"/>
<ellipse cx="97.85" cy="155.85" rx="1.6" ry="1.6" fill="#0000c8"/>
<ellipse cx="100.93" cy="158.31" rx="1.6" ry="1.6" fill="#0000c8"/>
<ellipse cx="104.00" cy="160.82" rx="1.6" ry="1.6" fill="#0000c8"/>
<ellipse cx="107.08" cy="163.36" rx="1.6" ry="1.6" fill="#0000c8"/>
<ellipse cx="110.15" cy="165.92" rx="1.6" ry="1.6" fill="#0000c8"/>
<ellipse cx="113.23" cy="168.49" rx="1.6" ry="1.6" fill="#0000c8"/>
<ellipse cx="116.30" cy="171.08" rx="1.6" ry="1.6" fill="#0000c8"/>
<ellipse cx="119.38" cy="173.67" rx="1.6" ry="1.6" fill="#0000c8"/>
<ellipse cx="122.45" cy="176.26" rx="1.6" ry="1.6" fill="#0000c8"/>
<ellipse cx="125.53" cy="178.86" rx="1.6" ry="1.6" fill="#0000c8"/>
<ellipse cx="128.60" cy="181.45" rx="1.6" ry="1.6" fill="#0000c8"/>
<ellipse cx="131.68" cy="184.03" rx="1.6" ry="1.6" fill="#0000c8"/>
<ellipse cx="134.75" cy="186.59" rx="1.6" ry="1.6" fill="#0000c8"/>
<ellipse cx="137.82" cy="189.15" rx="1.6" ry="1.6" fill="#0000c8"/>
<ellipse cx="140.90" cy="191.68" rx="1.6" ry="1.6" fill="#0000c8"/>
<ellipse cx="143.98" cy="194.18" rx="1.6" ry="1.6" fill="#0000c8"/>
<ellipse cx="147.05" cy="196.66" rx="1.6" ry="1.6" fill="#0000c8"/>
<ellipse cx="150.12" cy="199.10" rx="1.6" ry="1.6" fill="#0000c8"/>
<ellipse cx="153.20" cy="201.51" rx="1.6" ry="1.6" fill="#0000c8"/>
<ellipse cx="156.28" cy="203.88" rx="1.6" ry="1.6" fill="#0000c8"/>
<ellipse cx="159.35" cy="206.21" rx="1.6" ry="1.6" fill="#0000c8"/>
<ellipse cx="162.43" cy="208.49" rx="1.6" ry="1.6" fill="#0000c8"/>
<ellipse cx="165.50" cy="210.72" rx="1.6" ry="1.6" fill="#0000c8"/>
<polyline points="42.50,32.54 43.01,32.54 43.52,32.55 44.04,32.58 44.55,32.61 45.06,32.66 45.58,32.71 46.09,32.79 46.60,32.87 47.11,32.96 47.62,33.07 48.14,33.18 48.65,33.31 49.16,33.45 49.67,33.61 50.19,33.77 50.70,33.95 51.21,34.14 51.73,34.34 52.24,34.55 52.75,34.78 53.26,35.02 53.77,35.26 54.29,35.53 54.80,35.80 55.31,36.09 55.83,36.38 56.34,36.69 56.85,37.02 57.36,37.35 57.88,37.70 58.39,38.06 58.90,38.43 59.41,38.81 59.92,39.21 60.44,39.62 60.95,40.04 61.46,40.47 61.97,40.92 62.49,41.38 63.00,41.85 63.51,42.33 64.03,42.83 64.54,43.34 65.05,43.86 65.56,44.39 66.08,44.94 66.59,45.50 67.10,46.07 67.61,46.65 68.12,47.25 68.64,47.85 69.15,48.47 69.66,49.10 70.17,49.74 70.69,50.39 71.20,51.05 71.71,51.72 72.22,52.40 72.74,53.09 73.25,53.79 73.76,54.50 74.27,55.22 74.79,55.94 75.30,56.68 75.81,57.42 76.33,58.17 76.84,58.92 77.35,59.69 77.86,60.46 78.38,61.24 78.89,62.02 79.40,62.82 79.91,63.61 80.43,64.42 80.94,65.22 81.45,66.04 81.96,66.86 82.47,67.68 82.99,68.51 83.50,69.34 84.01,70.18 84.53,71.02 85.04,71.87 85.55,72.72 86.06,73.57 86.58,74.42 87.09,75.28 87.60,76.15 88.11,77.01 88.62,77.88 89.14,78.75 89.65,79.63 90.16,80.50 90.67,81.38 91.19,82.26 91.70,83.14 92.21,84.03 92.72,84.91 93.24,85.80 93.75,86.69 94.26,87.58 94.78,88.47 95.29,89.36 95.80,90.26 96.31,91.15 96.82,92.05 97.34,92.94 97.85,93.83 98.36,94.73 98.88,95.62 99.39,96.52 99.90,97.41 100.41,98.31 100.92,99.20 101.44,100.09 101.95,100.99 102.46,101.88 102.97,102.77 103.49,103.66 104.00,104.54 104.51,105.43 105.03,106.32 105.54,107.20 106.05,108.08 106.56,108.96 107.08,109.84 107.59,110.71 108.10,111.59 108.61,112.46 109.12,113.32 109.64,114.19 110.15,115.05 110.66,115.91 111.17,116.77 111.69,117.63 112.20,118.48 112.71,119.34 113.22,120.19 113.74,121.04 114.25,121.88 114.76,122.73 115.28,123.57 115.79,124.41 116.30,125.25 116.81,126.09 117.32,126.92 117.84,127.75 118.35,128.59 118.86,129.42 119.38,130.25 119.89,131.07 120.40,131.90 120.91,132.73 121.42,133.55 121.94,134.37 122.45,135.19 122.96,136.01 123.47,136.83 123.99,137.65 124.50,138.47 125.01,139.28 125.53,140.10 126.04,140.91 126.55,141.72 127.06,142.53 127.58,143.35 128.09,144.16 128.60,144.97 129.11,145.78 129.62,146.58 130.14,147.39 130.65,148.20 131.16,149.01 131.68,149.81 132.19,150.62 132.70,151.43 133.21,152.23 133.73,153.04 134.24,153.84 134.75,154.65 135.26,155.46 135.77,156.26 136.29,157.06 136.80,157.87 137.31,158.66 137.82,159.46 138.34,160.24 138.85,161.03 139.36,161.80 139.88,162.57 140.39,163.33 140.90,164.09 141.41,164.84 141.93,165.58 142.44,166.31 142.95,167.04 143.46,167.76 143.97,168.48 144.49,169.18 145.00,169.89 145.51,170.58 146.03,171.27 146.54,171.96 147.05,172.63 147.56,173.30 148.07,173.97 148.59,174.63 149.10,175.28 149.61,175.93 150.12,176.57 150.64,177.21 151.15,177.84 151.66,178.47 152.18,179.09 152.69,179.71 153.20,180.32 153.71,180.93 154.22,181.53 154.74,182.13 155.25,182.72 155.76,183.31 156.27,183.89 156.79,184.47 157.30,185.05 157.81,185.62 158.32,186.19 158.84,186.76 159.35,187.32 159.86,187.87 160.38,188.43 160.89,188.98 161.40,189.53 161.91,190.07 162.43,190.61 162.94,191.15 163.45,191.68 163.96,192.22 164.48,192.75 164.99,193.27 165.50,193.80" fill="none" stroke="#40ecec" stroke-width="1.5"/>
<ellipse cx="42.50" cy="32.54" rx="1.6" ry="1.6" fill="#20d4c4"/>
<ellipse cx="45.58" cy="32.71" rx="1.6" ry="1.6" fill="#20d4c4"/>
<ellipse cx="48.65" cy="33.31" rx="1.6" ry="1.6" fill="#20d4c4"/>
<ellipse cx="51.73" cy="34.34" rx="1.6" ry="1.6" fill="#20d4c4"/>
<ellipse cx="54.80" cy="35.80" rx="1.6" ry="1.6" fill="#20d4c4"/>
<ellipse cx="57.88" cy="37.70" rx="1.6" ry="1.6" fill="#20d4c4"/>
<ellipse cx="60.95" cy="40.04" rx="1.6" ry="1.6" fill="#20d4c4"/>
<ellipse cx="64.03" cy="42.83" rx="1.6" ry="1.6" fill="#20d4c4"/>
<ellipse cx="67.10" cy="46.07" rx="1.6" ry="1.6" fill="#20d4c4"/>
<ellipse cx="70.17" cy="49.74" rx="1.6" ry="1.6" fill="#20d4c4"/>
<ellipse cx="73.25" cy="53.79" rx="1.6" ry="1.6" fill="#20d4c4"/>
<ellipse cx="76.33" cy="58.17" rx="1.6" ry="1.6" fill="#20d4c4"/>
<ellipse cx="79.40" cy="62.82" rx="1.6" ry="1.6" fill="#20d4c4"/>
<ellipse cx="82.47" cy="67.68" rx="1.6" ry="1.6" fill="#20d4c4"/>
<ellipse cx="85.55" cy="72.72" rx="1.6" ry="1.6" fill="#20d4c4"/>
<ellipse cx="88.62" cy="77.88" rx="1.6" ry="1.6" fill="#20d4c4"/>
<ellipse cx="91.70" cy="83.14" rx="1.6" ry="1.6" fill="#20d4c4"/>
<ellipse cx="94.78" cy="88.47" rx="1.6" ry="1.6" fill="#20d4c4"/>
<ellipse cx="97.85" cy="93.83" rx="1.6" ry="1.6" fill="#20d4c4"/>
<ellipse cx="100.93" cy="99.20" rx="1.6" ry="1.6" fill="#20d4c4"/>
<ellipse cx="104.00" cy="104.54" rx="1.6" ry="1.6" fill="#20d4c4"/>
<ellipse cx="107.08" cy="109.84" rx="1.6" ry="1.6" fill="#20d4c4"/>
<ellipse cx="110.15" cy="115.05" rx="1.6" ry="1.6" fill="#20d4c4"/>
<ellipse cx="113.23" cy="120.19" rx="1.6" ry="1.6" fill="#20d4c4"/>
<ellipse cx="116.30" cy="125.25" rx="1.6" ry="1.6" fill="#20d4c4"/>
<ellipse cx="119.38" cy="130.25" rx="1.6" ry="1.6" fill="#20d4c4"/>
<ellipse cx="122.45" cy="135.19" rx="1.6" ry="1.6" fill="#20d4c4"/>
<ellipse cx="125.53" cy="140.10" rx="1.6" ry="1.6" fill="#20d4c4"/>
<ellipse cx="128.60" cy="144.97" rx="1.6" ry="1.6" fill="#20d4c4"/>
<ellipse cx="131.68" cy="149.81" rx="1.6" ry="1.6" fill="#20d4c4"/>
<ellipse cx="134.75" cy="154.65" rx="1.6" ry="1.6" fill="#20d4c4"/>
<ellipse cx="137.82" cy="159.46" rx="1.6" ry="1.6" fill="#20d4c4"/>
<ellipse cx="140.90" cy="164.09" rx="1.6" ry="1.6" fill="#20d4c4"/>
<ellipse cx="143.98" cy="168.48" rx="1.6" ry="1.6" fill="#20d4c4"/>
<ellipse cx="147.05" cy="172.63" rx="1.6" ry="1.6" fill="#20d4c4"/>
<ellipse cx="150.12" cy="176.57" rx="1.6" ry="1.6" fill="#20d4c4"/>
<ellipse cx="153.20" cy="180.32" rx="1.6" ry="1.6" fill="#20d4c4"/>
<ellipse cx="156.28" cy="183.89" rx="1.6" ry="1.6" fill="#20d4c4"/>
<ellipse cx="159.35" cy="187.32" rx="1.6" ry="1.6" fill="#20d4c4"/>
<ellipse cx="162.43" cy="190.61" rx="1.6" ry="1.6" fill="#20d4c4"/>
<ellipse cx="165.50" cy="193.80" rx="1.6" ry="1.6" fill="#20d4c4"/>
<polyline points="218.00,209.12 218.51,209.12 219.03,209.12 219.54,209.12 220.06,209.13 220.57,209.13 221.09,209.14 221.60,209.15 222.12,209.16 222.63,209.17 223.15,209.19 223.66,209.20 224.18,209.22 224.69,209.24 225.20,209.26 225.72,209.28 226.23,209.30 226.75,209.32 227.26,209.35 227.78,209.37 228.29,209.40 228.81,209.43 229.32,209.46 229.84,209.49 230.35,209.52 230.86,209.56 231.38,209.59 231.89,209.63 232.41,209.67 232.92,209.71 233.44,209.75 233.95,209.79 234.47,209.83 234.98,209.88 235.50,209.92 236.01,209.97 236.53,210.02 237.04,210.07 237.55,210.12 238.07,210.17 238.58,210.22 239.10,210.28 239.61,210.33 240.13,210.39 240.64,210.44 241.16,210.50 241.67,210.56 242.19,210.63 242.70,210.69 243.21,210.75 243.73,210.82 244.24,210.88 244.76,210.95 245.27,211.02 245.79,211.09 246.30,211.16 246.82,211.23 247.33,211.30 247.85,211.37 248.36,211.45 248.88,211.53 249.39,211.60 249.90,211.68 250.42,211.76 250.93,211.84 251.45,211.92 251.96,212.00 252.48,212.09 252.99,212.17 253.51,212.26 254.02,212.34 254.54,212.43 255.05,212.52 255.56,212.61 256.08,212.70 256.59,212.79 257.11,212.88 257.62,212.97 258.14,213.07 258.65,213.16 259.17,213.26 259.68,213.36 260.20,213.45 260.71,213.55 261.23,213.65 261.74,213.75 262.25,213.85 262.77,213.96 263.28,214.06 263.80,214.16 264.31,214.27 264.83,214.38 265.34,214.48 265.86,214.59 266.37,214.70 266.89,214.81 267.40,214.92 267.91,215.03 268.43,215.14 268.94,215.25 269.46,215.37 269.97,215.48 270.49,215.60 271.00,215.71 271.52,215.83 272.03,215.95 272.55,216.06 273.06,216.18 273.57,216.30 274.09,216.42 274.60,216.54 275.12,216.67 275.63,216.79 276.15,216.91 276.66,217.04 277.18,217.16 277.69,217.29 278.21,217.41 278.72,217.54 279.24,217.67 279.75,217.80 280.26,217.92 280.78,218.05 281.29,218.18 281.81,218.31 282.32,218.45 282.84,218.58 283.35,218.71 283.87,218.84 284.38,218.98 284.90,219.11 285.41,219.25 285.93,219.38 286.44,219.52 286.95,219.66 287.47,219.79 287.98,219.93 288.50,220.07 289.01,220.21 289.53,220.35 290.04,220.49 290.56,220.63 291.07,220.77 291.59,220.91 292.10,221.06 292.61,221.20 293.13,221.34 293.64,221.49 294.16,221.63 294.67,221.77 295.19,221.92 295.70,222.07 296.22,222.21 296.73,222.36 297.25,222.51 297.76,222.65 298.27,222.80 298.79,222.95 299.30,223.10 299.82,223.25 300.33,223.40 300.85,223.55 301.36,223.70 301.88,223.85 302.39,224.00 302.91,224.15 303.42,224.30 303.94,224.45 304.45,224.61 304.96,224.76 305.48,224.91 305.99,225.07 306.51,225.22 307.02,225.37 307.54,225.53 308.05,225.68 308.57,225.84 309.08,225.99 309.60,226.15 310.11,226.30 310.62,226.46 311.14,226.62 311.65,226.77 312.17,226.93 312.68,227.09 313.20,227.24 313.71,227.40 314.23,227.56 314.74,227.72 315.26,227.88 315.77,228.03 316.29,228.19 316.80,228.35 317.31,228.51 317.83,228.67 318.34,228.83 318.86,228.99 319.37,229.15 319.89,229.31 320.40,229.47 320.92,229.63 321.43,229.79 321.95,229.95 322.46,230.11 322.98,230.27 323.49,230.43 324.00,230.59 324.52,230.75 325.03,230.91 325.55,231.07 326.06,231.23 326.58,231.39 327.09,231.56 327.61,231.72 328.12,231.88 328.64,232.04 329.15,232.20 329.66,232.36 330.18,232.52 330.69,232.68 331.21,232.84 331.72,233.01 332.24,233.17 332.75,233.33 333.27,233.49 333.78,233.65 334.30,233.81 334.81,233.97 335.32,234.13 335.84,234.29 336.35,234.45 336.87,234.62 337.38,234.78 337.90,234.94 338.41,235.10 338.93,235.26 339.44,235.42 339.96,235.58 340.47,235.74 340.99,235.90 341.50,236.06" fill="none" stroke="#ecf8ec" stroke-width="4" stroke-linejoin="round"/>
<polyline points="218.00,209.12 218.51,209.12 219.03,209.12 219.54,209.12 220.06,209.13 220.57,209.13 221.09,209.14 221.60,209.15 222.12,209.16 222.63,209.17 223.15,209.19 223.66,209.20 224.18,209.22 224.69,209.24 225.20,209.26 225.72,209.28 226.23,209.30 226.75,209.32 227.26,209.35 227.78,209.37 228.29,209.40 228.81,209.43 229.32,209.46 229.84,209.49 230.35,209.52 230.86,209.56 231.38,209.59 231.89,209.63 232.41,209.67 232.92,209.71 233.44,209.75 233.95,209.79 234.47,209.83 234.98,209.88 235.50,209.92 236.01,209.97 236.53,210.02 237.04,210.07 237.55,210.12 238.07,210.17 238.58,210.22 239.10,210.28 239.61,210.33 240.13,210.39 240.64,210.44 241.16,210.50 241.67,210.56 242.19,210.63 242.70,210.69 243.21,210.75 243.73,210.82 244.24,210.88 244.76,210.95 245.27,211.02 245.79,211.09 246.30,211.16 246.82,211.23 247.33,211.30 247.85,211.37 248.36,211.45 248.88,211.53 249.39,211.60 249.90,211.68 250.42,211.76 250.93,211.84 251.45,211.92 251.96,212.00 252.48,212.09 252.99,212.17 253.51,212.26 254.02,212.34 254.54,212.43 255.05,212.52 255.56,212.61 256.08,212.70 256.59,212.79 257.11,212.88 257.62,212.97 258.14,213.07 258.65,213.16 259.17,213.26 259.68,213.36 260.20,213.45 260.71,213.55 261.23,213.65 261.74,213.75 262.25,213.85 262.77,213.96 263.28,214.06 263.80,214.16 264.31,214.27 264.83,214.38 265.34,214.48 265.86,214.59 266.37,214.70 266.89,214.81 267.40,214.92 267.91,215.03 268.43,215.14 268.94,215.25 269.46,215.37 269.97,215.48 270.49,215.60 271.00,215.71 271.52,215.83 272.03,215.95 272.55,216.06 273.06,216.18 273.57,216.30 274.09,216.42 274.60,216.54 275.12,216.67 275.63,216.79 276.15,216.91 276.66,217.04 277.18,217.16 277.69,217.29 278.21,217.41 278.72,217.54 279.24,217.67 279.75,217.80 280.26,217.92 280.78,218.05 281.29,218.18 281.81,218.31 282.32,218.45 282.84,218.58 283.35,218.71 283.87,218.84 284.38,218.98 284.90,219.11 285.41,219.25 285.93,219.38 286.44,219.52 286.95,219.66 287.47,219.79 287.98,219.93 288.50,220.07 289.01,220.21 289.53,220.35 290.04,220.49 290.56,220.63 291.07,220.77 291.59,220.91 292.10,221.06 292.61,221.20 293.13,221.34 293.64,221.49 294.16,221.63 294.67,221.77 295.19,221.92 295.70,222.07 296.22,222.21 296.73,222.36 297.25,222.51 297.76,222.65 298.27,222.80 298.79,222.95 299.30,223.10 299.82,223.25 300.33,223.40 300.85,223.55 301.36,223.70 301.88,223.85 302.39,224.00 302.91,224.15 303.42,224.30 303.94,224.45 304.45,224.61 304.96,224.76 305.48,224.91 305.99,225.07 306.51,225.22 307.02,225.37 307.54,225.53 308.05,225.68 308.57,225.84 309.08,225.99 309.60,226.15 310.11,226.30 310.62,226.46 311.14,226.62 311.65,226.77 312.17,226.93 312.68,227.09 313.20,227.24 313.71,227.40 314.23,227.56 314.74,227.72 315.26,227.88 315.77,228.03 316.29,228.19 316.80,228.35 317.31,228.51 317.83,228.67 318.34,228.83 318.86,228.99 319.37,229.15 319.89,229.31 320.40,229.47 320.92,229.63 321.43,229.79 321.95,229.95 322.46,230.11 322.98,230.27 323.49,230.43 324.00,230.59 324.52,230.75 325.03,230.91 325.55,231.07 326.06,231.23 326.58,231.39 327.09,231.56 327.61,231.72 328.12,231.88 328.64,232.04 329.15,232.20 329.66,232.36 330.18,232.52 330.69,232.68 331.21,232.84 331.72,233.01 332.24,233.17 332.75,233.33 333.27,233.49 333.78,233.65 334.30,233.81 334.81,233.97 335.32,234.13 335.84,234.29 336.35,234.45 336.87,234.62 337.38,234.78 337.90,234.94 338.41,235.10 338.93,235.26 339.44,235.42 339.96,235.58 340.47,235.74 340.99,235.90 341.50,236.06" fill="none" stroke="#5aa85a" stroke-width="1.0"/>
<ellipse cx="218.30" cy="209.12" rx="1.95" ry="1.4" fill="#245a24"/>
<ellipse cx="223.27" cy="209.19" rx="1.95" ry="1.4" fill="#245a24"/>
<ellipse cx="228.23" cy="209.40" rx="1.95" ry="1.4" fill="#245a24"/>
<ellipse cx="233.20" cy="209.73" rx="1.95" ry="1.4" fill="#245a24"/>
<ellipse cx="238.16" cy="210.18" rx="1.95" ry="1.4" fill="#245a24"/>
<ellipse cx="243.12" cy="210.74" rx="1.95" ry="1.4" fill="#245a24"/>
<ellipse cx="248.09" cy="211.41" rx="1.95" ry="1.4" fill="#245a24"/>
<ellipse cx="253.06" cy="212.18" rx="1.95" ry="1.4" fill="#245a24"/>
<ellipse cx="258.02" cy="213.05" rx="1.95" ry="1.4" fill="#245a24"/>
<ellipse cx="262.99" cy="214.00" rx="1.95" ry="1.4" fill="#245a24"/>
<ellipse cx="267.95" cy="215.04" rx="1.95" ry="1.4" fill="#245a24"/>
<ellipse cx="272.92" cy="216.15" rx="1.95" ry="1.4" fill="#245a24"/>
<ellipse cx="277.88" cy="217.33" rx="1.95" ry="1.4" fill="#245a24"/>
<ellipse cx="282.85" cy="218.58" rx="1.95" ry="1.4" fill="#245a24"/>
<ellipse cx="287.81" cy="219.89" rx="1.95" ry="1.4" fill="#245a24"/>
<ellipse cx="292.77" cy="221.24" rx="1.95" ry="1.4" fill="#245a24"/>
<ellipse cx="297.74" cy="222.65" rx="1.95" ry="1.4" fill="#245a24"/>
<ellipse cx="302.71" cy="224.09" rx="1.95" ry="1.4" fill="#245a24"/>
<ellipse cx="307.67" cy="225.57" rx="1.95" ry="1.4" fill="#245a24"/>
<ellipse cx="312.63" cy="227.07" rx="1.95" ry="1.4" fill="#245a24"/>
<ellipse cx="317.60" cy="228.60" rx="1.95" ry="1.4" fill="#245a24"/>
<ellipse cx="322.56" cy="230.14" rx="1.95" ry="1.4" fill="#245a24"/>
<ellipse cx="327.53" cy="231.69" rx="1.95" ry="1.4" fill="#245a24"/>
<ellipse cx="332.50" cy="233.25" rx="1.95" ry="1.4" fill="#245a24"/>
<ellipse cx="337.46" cy="234.80" rx="1.95" ry="1.4" fill="#245a24"/>
<ellipse cx="341.30" cy="235.99" rx="1.95" ry="1.4" fill="#245a24"/>
<polyline points="218.00,203.06 218.51,203.06 219.03,203.06 219.54,203.07 220.06,203.07 220.57,203.08 221.09,203.09 221.60,203.10 222.12,203.12 222.63,203.13 223.15,203.15 223.66,203.17 224.18,203.19 224.69,203.22 225.20,203.24 225.72,203.27 226.23,203.30 226.75,203.33 227.26,203.36 227.78,203.40 228.29,203.44 228.81,203.47 229.32,203.51 229.84,203.56 230.35,203.60 230.86,203.64 231.38,203.69 231.89,203.74 232.41,203.79 232.92,203.84 233.44,203.90 233.95,203.95 234.47,204.01 234.98,204.07 235.50,204.13 236.01,204.19 236.53,204.25 237.04,204.32 237.55,204.38 238.07,204.45 238.58,204.52 239.10,204.59 239.61,204.67 240.13,204.74 240.64,204.82 241.16,204.89 241.67,204.97 242.19,205.05 242.70,205.14 243.21,205.22 243.73,205.30 244.24,205.39 244.76,205.48 245.27,205.57 245.79,205.66 246.30,205.75 246.82,205.85 247.33,205.94 247.85,206.04 248.36,206.13 248.88,206.23 249.39,206.33 249.90,206.44 250.42,206.54 250.93,206.64 251.45,206.75 251.96,206.86 252.48,206.97 252.99,207.07 253.51,207.19 254.02,207.30 254.54,207.41 255.05,207.53 255.56,207.64 256.08,207.76 256.59,207.88 257.11,208.00 257.62,208.12 258.14,208.24 258.65,208.36 259.17,208.49 259.68,208.61 260.20,208.74 260.71,208.87 261.23,209.00 261.74,209.13 262.25,209.26 262.77,209.39 263.28,209.52 263.80,209.66 264.31,209.79 264.83,209.93 265.34,210.07 265.86,210.20 266.37,210.34 266.89,210.48 267.40,210.63 267.91,210.77 268.43,210.91 268.94,211.06 269.46,211.20 269.97,211.35 270.49,211.49 271.00,211.64 271.52,211.79 272.03,211.94 272.55,212.09 273.06,212.24 273.57,212.40 274.09,212.55 274.60,212.70 275.12,212.86 275.63,213.01 276.15,213.17 276.66,213.33 277.18,213.49 277.69,213.64 278.21,213.80 278.72,213.96 279.24,214.13 279.75,214.29 280.26,214.45 280.78,214.61 281.29,214.78 281.81,214.94 282.32,215.11 282.84,215.28 283.35,215.44 283.87,215.61 284.38,215.78 284.90,215.95 285.41,216.12 285.93,216.29 286.44,216.46 286.95,216.63 287.47,216.80 287.98,216.97 288.50,217.15 289.01,217.32 289.53,217.49 290.04,217.67 290.56,217.84 291.07,218.02 291.59,218.19 292.10,218.37 292.61,218.55 293.13,218.73 293.64,218.90 294.16,219.08 294.67,219.26 295.19,219.44 295.70,219.62 296.22,219.80 296.73,219.98 297.25,220.16 297.76,220.34 298.27,220.53 298.79,220.71 299.30,220.89 299.82,221.07 300.33,221.26 300.85,221.44 301.36,221.62 301.88,221.81 302.39,221.99 302.91,222.17 303.42,222.36 303.94,222.54 304.45,222.73 304.96,222.92 305.48,223.10 305.99,223.29 306.51,223.47 307.02,223.66 307.54,223.85 308.05,224.03 308.57,224.22 309.08,224.41 309.60,224.59 310.11,224.78 310.62,224.97 311.14,225.16 311.65,225.34 312.17,225.53 312.68,225.72 313.20,225.91 313.71,226.09 314.23,226.28 314.74,226.47 315.26,226.66 315.77,226.84 316.29,227.03 316.80,227.22 317.31,227.41 317.83,227.60 318.34,227.78 318.86,227.97 319.37,228.16 319.89,228.35 320.40,228.53 320.92,228.72 321.43,228.91 321.95,229.10 322.46,229.28 322.98,229.47 323.49,229.66 324.00,229.84 324.52,230.03 325.03,230.22 325.55,230.40 326.06,230.59 326.58,230.77 327.09,230.96 327.61,231.14 328.12,231.33 328.64,231.51 329.15,231.70 329.66,231.88 330.18,232.07 330.69,232.25 331.21,232.43 331.72,232.62 332.24,232.80 332.75,232.98 333.27,233.16 333.78,233.34 334.30,233.53 334.81,233.71 335.32,233.89 335.84,234.07 336.35,234.25 336.87,234.43 337.38,234.61 337.90,234.78 338.41,234.96 338.93,235.14 339.44,235.32 339.96,235.49 340.47,235.67 340.99,235.84 341.50,236.02" fill="none" stroke="#ececfb" stroke-width="4" stroke-linejoin="round"/>
<polyline points="218.00,203.06 218.51,203.06 219.03,203.06 219.54,203.07 220.06,203.07 220.57,203.08 221.09,203.09 221.60,203.10 222.12,203.12 222.63,203.13 223.15,203.15 223.66,203.17 224.18,203.19 224.69,203.22 225.20,203.24 225.72,203.27 226.23,203.30 226.75,203.33 227.26,203.36 227.78,203.40 228.29,203.44 228.81,203.47 229.32,203.51 229.84,203.56 230.35,203.60 230.86,203.64 231.38,203.69 231.89,203.74 232.41,203.79 232.92,203.84 233.44,203.90 233.95,203.95 234.47,204.01 234.98,204.07 235.50,204.13 236.01,204.19 236.53,204.25 237.04,204.32 237.55,204.38 238.07,204.45 238.58,204.52 239.10,204.59 239.61,204.67 240.13,204.74 240.64,204.82 241.16,204.89 241.67,204.97 242.19,205.05 242.70,205.14 243.21,205.22 243.73,205.30 244.24,205.39 244.76,205.48 245.27,205.57 245.79,205.66 246.30,205.75 246.82,205.85 247.33,205.94 247.85,206.04 248.36,206.13 248.88,206.23 249.39,206.33 249.90,206.44 250.42,206.54 250.93,206.64 251.45,206.75 251.96,206.86 252.48,206.97 252.99,207.07 253.51,207.19 254.02,207.30 254.54,207.41 255.05,207.53 255.56,207.64 256.08,207.76 256.59,207.88 257.11,208.00 257.62,208.12 258.14,208.24 258.65,208.36 259.17,208.49 259.68,208.61 260.20,208.74 260.71,208.87 261.23,209.00 261.74,209.13 262.25,209.26 262.77,209.39 263.28,209.52 263.80,209.66 264.31,209.79 264.83,209.93 265.34,210.07 265.86,210.20 266.37,210.34 266.89,210.48 267.40,210.63 267.91,210.77 268.43,210.91 268.94,211.06 269.46,211.20 269.97,211.35 270.49,211.49 271.00,211.64 271.52,211.79 272.03,211.94 272.55,212.09 273.06,212.24 273.57,212.40 274.09,212.55 274.60,212.70 275.12,212.86 275.63,213.01 276.15,213.17 276.66,213.33 277.18,213.49 277.69,213.64 278.21,213.80 278.72,213.96 279.24,214.13 279.75,214.29 280.26,214.45 280.78,214.61 281.29,214.78 281.81,214.94 282.32,215.11 282.84,215.28 283.35,215.44 283.87,215.61 284.38,215.78 284.90,215.95 285.41,216.12 285.93,216.29 286.44,216.46 286.95,216.63 287.47,216.80 287.98,216.97 288.50,217.15 289.01,217.32 289.53,217.49 290.04,217.67 290.56,217.84 291.07,218.02 291.59,218.19 292.10,218.37 292.61,218.55 293.13,218.73 293.64,218.90 294.16,219.08 294.67,219.26 295.19,219.44 295.70,219.62 296.22,219.80 296.73,219.98 297.25,220.16 297.76,220.34 298.27,220.53 298.79,220.71 299.30,220.89 299.82,221.07 300.33,221.26 300.85,221.44 301.36,221.62 301.88,221.81 302.39,221.99 302.91,222.17 303.42,222.36 303.94,222.54 304.45,222.73 304.96,222.92 305.48,223.10 305.99,223.29 306.51,223.47 307.02,223.66 307.54,223.85 308.05,224.03 308.57,224.22 309.08,224.41 309.60,224.59 310.11,224.78 310.62,224.97 311.14,225.16 311.65,225.34 312.17,225.53 312.68,225.72 313.20,225.91 313.71,226.09 314.23,226.28 314.74,226.47 315.26,226.66 315.77,226.84 316.29,227.03 316.80,227.22 317.31,227.41 317.83,227.60 318.34,227.78 318.86,227.97 319.37,228.16 319.89,228.35 320.40,228.53 320.92,228.72 321.43,228.91 321.95,229.10 322.46,229.28 322.98,229.47 323.49,229.66 324.00,229.84 324.52,230.03 325.03,230.22 325.55,230.40 326.06,230.59 326.58,230.77 327.09,230.96 327.61,231.14 328.12,231.33 328.64,231.51 329.15,231.70 329.66,231.88 330.18,232.07 330.69,232.25 331.21,232.43 331.72,232.62 332.24,232.80 332.75,232.98 333.27,233.16 333.78,233.34 334.30,233.53 334.81,233.71 335.32,233.89 335.84,234.07 336.35,234.25 336.87,234.43 337.38,234.61 337.90,234.78 338.41,234.96 338.93,235.14 339.44,235.32 339.96,235.49 340.47,235.67 340.99,235.84 341.50,236.02" fill="none" stroke="#5050c8" stroke-width="1.0"/>
<ellipse cx="218.30" cy="203.06" rx="1.95" ry="1.4" fill="#141480"/>
<ellipse cx="223.27" cy="203.16" rx="1.95" ry="1.4" fill="#141480"/>
<ellipse cx="228.23" cy="203.43" rx="1.95" ry="1.4" fill="#141480"/>
<ellipse cx="233.20" cy="203.87" rx="1.95" ry="1.4" fill="#141480"/>
<ellipse cx="238.16" cy="204.46" rx="1.95" ry="1.4" fill="#141480"/>
<ellipse cx="243.12" cy="205.21" rx="1.95" ry="1.4" fill="#141480"/>
<ellipse cx="248.09" cy="206.08" rx="1.95" ry="1.4" fill="#141480"/>
<ellipse cx="253.06" cy="207.09" rx="1.95" ry="1.4" fill="#141480"/>
<ellipse cx="258.02" cy="208.21" rx="1.95" ry="1.4" fill="#141480"/>
<ellipse cx="262.99" cy="209.45" rx="1.95" ry="1.4" fill="#141480"/>
<ellipse cx="267.95" cy="210.78" rx="1.95" ry="1.4" fill="#141480"/>
<ellipse cx="272.92" cy="212.20" rx="1.95" ry="1.4" fill="#141480"/>
<ellipse cx="277.88" cy="213.70" rx="1.95" ry="1.4" fill="#141480"/>
<ellipse cx="282.85" cy="215.28" rx="1.95" ry="1.4" fill="#141480"/>
<ellipse cx="287.81" cy="216.91" rx="1.95" ry="1.4" fill="#141480"/>
<ellipse cx="292.77" cy="218.60" rx="1.95" ry="1.4" fill="#141480"/>
<ellipse cx="297.74" cy="220.34" rx="1.95" ry="1.4" fill="#141480"/>
<ellipse cx="302.71" cy="222.10" rx="1.95" ry="1.4" fill="#141480"/>
<ellipse cx="307.67" cy="223.89" rx="1.95" ry="1.4" fill="#141480"/>
<ellipse cx="312.63" cy="225.70" rx="1.95" ry="1.4" fill="#141480"/>
<ellipse cx="317.60" cy="227.51" rx="1.95" ry="1.4" fill="#141480"/>
<ellipse cx="322.56" cy="229.32" rx="1.95" ry="1.4" fill="#141480"/>
<ellipse cx="327.53" cy="231.12" rx="1.95" ry="1.4" fill="#141480"/>
<ellipse cx="332.50" cy="232.89" rx="1.95" ry="1.4" fill="#141480"/>
<ellipse cx="337.46" cy="234.63" rx="1.95" ry="1.4" fill="#141480"/>
<ellipse cx="341.30" cy="235.95" rx="1.95" ry="1.4" fill="#141480"/>
<polyline points="218.00,194.87 218.51,194.87 219.03,194.87 219.54,194.88 220.06,194.89 220.57,194.90 221.09,194.92 221.60,194.93 222.12,194.95 222.63,194.98 223.15,195.00 223.66,195.03 224.18,195.06 224.69,195.10 225.20,195.13 225.72,195.17 226.23,195.21 226.75,195.26 227.26,195.31 227.78,195.35 228.29,195.41 228.81,195.46 229.32,195.52 229.84,195.58 230.35,195.64 230.86,195.70 231.38,195.77 231.89,195.84 232.41,195.91 232.92,195.98 233.44,196.06 233.95,196.14 234.47,196.22 234.98,196.30 235.50,196.39 236.01,196.47 236.53,196.56 237.04,196.66 237.55,196.75 238.07,196.85 238.58,196.95 239.10,197.05 239.61,197.15 240.13,197.25 240.64,197.36 241.16,197.47 241.67,197.58 242.19,197.69 242.70,197.81 243.21,197.93 243.73,198.04 244.24,198.17 244.76,198.29 245.27,198.41 245.79,198.54 246.30,198.67 246.82,198.80 247.33,198.93 247.85,199.07 248.36,199.20 248.88,199.34 249.39,199.48 249.90,199.62 250.42,199.76 250.93,199.91 251.45,200.06 251.96,200.20 252.48,200.35 252.99,200.51 253.51,200.66 254.02,200.81 254.54,200.97 255.05,201.13 255.56,201.29 256.08,201.45 256.59,201.61 257.11,201.78 257.62,201.94 258.14,202.11 258.65,202.28 259.17,202.45 259.68,202.62 260.20,202.79 260.71,202.97 261.23,203.14 261.74,203.32 262.25,203.50 262.77,203.68 263.28,203.86 263.80,204.04 264.31,204.22 264.83,204.41 265.34,204.60 265.86,204.78 266.37,204.97 266.89,205.16 267.40,205.35 267.91,205.54 268.43,205.74 268.94,205.93 269.46,206.13 269.97,206.32 270.49,206.52 271.00,206.72 271.52,206.92 272.03,207.12 272.55,207.32 273.06,207.52 273.57,207.72 274.09,207.93 274.60,208.13 275.12,208.34 275.63,208.55 276.15,208.75 276.66,208.96 277.18,209.17 277.69,209.38 278.21,209.59 278.72,209.80 279.24,210.02 279.75,210.23 280.26,210.44 280.78,210.66 281.29,210.87 281.81,211.09 282.32,211.31 282.84,211.52 283.35,211.74 283.87,211.96 284.38,212.18 284.90,212.40 285.41,212.62 285.93,212.84 286.44,213.06 286.95,213.28 287.47,213.50 287.98,213.72 288.50,213.95 289.01,214.17 289.53,214.39 290.04,214.62 290.56,214.84 291.07,215.07 291.59,215.29 292.10,215.52 292.61,215.74 293.13,215.97 293.64,216.19 294.16,216.42 294.67,216.65 295.19,216.87 295.70,217.10 296.22,217.33 296.73,217.55 297.25,217.78 297.76,218.01 298.27,218.24 298.79,218.46 299.30,218.69 299.82,218.92 300.33,219.15 300.85,219.37 301.36,219.60 301.88,219.83 302.39,220.06 302.91,220.28 303.42,220.51 303.94,220.74 304.45,220.97 304.96,221.19 305.48,221.42 305.99,221.65 306.51,221.87 307.02,222.10 307.54,222.32 308.05,222.55 308.57,222.77 309.08,223.00 309.60,223.22 310.11,223.45 310.62,223.67 311.14,223.90 311.65,224.12 312.17,224.34 312.68,224.57 313.20,224.79 313.71,225.01 314.23,225.23 314.74,225.45 315.26,225.67 315.77,225.89 316.29,226.11 316.80,226.33 317.31,226.55 317.83,226.76 318.34,226.98 318.86,227.20 319.37,227.41 319.89,227.63 320.40,227.84 320.92,228.05 321.43,228.27 321.95,228.48 322.46,228.69 322.98,228.90 323.49,229.11 324.00,229.32 324.52,229.53 325.03,229.73 325.55,229.94 326.06,230.14 326.58,230.35 327.09,230.55 327.61,230.75 328.12,230.96 328.64,231.16 329.15,231.36 329.66,231.55 330.18,231.75 330.69,231.95 331.21,232.14 331.72,232.34 332.24,232.53 332.75,232.72 333.27,232.92 333.78,233.10 334.30,233.29 334.81,233.48 335.32,233.67 335.84,233.85 336.35,234.04 336.87,234.22 337.38,234.40 337.90,234.58 338.41,234.76 338.93,234.94 339.44,235.11 339.96,235.29 340.47,235.46 340.99,235.63 341.50,235.80" fill="none" stroke="#e4fbfb" stroke-width="4" stroke-linejoin="round"/>
<polyline points="218.00,194.87 218.51,194.87 219.03,194.87 219.54,194.88 220.06,194.89 220.57,194.90 221.09,194.92 221.60,194.93 222.12,194.95 222.63,194.98 223.15,195.00 223.66,195.03 224.18,195.06 224.69,195.10 225.20,195.13 225.72,195.17 226.23,195.21 226.75,195.26 227.26,195.31 227.78,195.35 228.29,195.41 228.81,195.46 229.32,195.52 229.84,195.58 230.35,195.64 230.86,195.70 231.38,195.77 231.89,195.84 232.41,195.91 232.92,195.98 233.44,196.06 233.95,196.14 234.47,196.22 234.98,196.30 235.50,196.39 236.01,196.47 236.53,196.56 237.04,196.66 237.55,196.75 238.07,196.85 238.58,196.95 239.10,197.05 239.61,197.15 240.13,197.25 240.64,197.36 241.16,197.47 241.67,197.58 242.19,197.69 242.70,197.81 243.21,197.93 243.73,198.04 244.24,198.17 244.76,198.29 245.27,198.41 245.79,198.54 246.30,198.67 246.82,198.80 247.33,198.93 247.85,199.07 248.36,199.20 248.88,199.34 249.39,199.48 249.90,199.62 250.42,199.76 250.93,199.91 251.45,200.06 251.96,200.20 252.48,200.35 252.99,200.51 253.51,200.66 254.02,200.81 254.54,200.97 255.05,201.13 255.56,201.29 256.08,201.45 256.59,201.61 257.11,201.78 257.62,201.94 258.14,202.11 258.65,202.28 259.17,202.45 259.68,202.62 260.20,202.79 260.71,202.97 261.23,203.14 261.74,203.32 262.25,203.50 262.77,203.68 263.28,203.86 263.80,204.04 264.31,204.22 264.83,204.41 265.34,204.60 265.86,204.78 266.37,204.97 266.89,205.16 267.40,205.35 267.91,205.54 268.43,205.74 268.94,205.93 269.46,206.13 269.97,206.32 270.49,206.52 271.00,206.72 271.52,206.92 272.03,207.12 272.55,207.32 273.06,207.52 273.57,207.72 274.09,207.93 274.60,208.13 275.12,208.34 275.63,208.55 276.15,208.75 276.66,208.96 277.18,209.17 277.69,209.38 278.21,209.59 278.72,209.80 279.24,210.02 279.75,210.23 280.26,210.44 280.78,210.66 281.29,210.87 281.81,211.09 282.32,211.31 282.84,211.52 283.35,211.74 283.87,211.96 284.38,212.18 284.90,212.40 285.41,212.62 285.93,212.84 286.44,213.06 286.95,213.28 287.47,213.50 287.98,213.72 288.50,213.95 289.01,214.17 289.53,214.39 290.04,214.62 290.56,214.84 291.07,215.07 291.59,215.29 292.10,215.52 292.61,215.74 293.13,215.97 293.64,216.19 294.16,216.42 294.67,216.65 295.19,216.87 295.70,217.10 296.22,217.33 296.73,217.55 297.25,217.78 297.76,218.01 298.27,218.24 298.79,218.46 299.30,218.69 299.82,218.92 300.33,219.15 300.85,219.37 301.36,219.60 301.88,219.83 302.39,220.06 302.91,220.28 303.42,220.51 303.94,220.74 304.45,220.97 304.96,221.19 305.48,221.42 305.99,221.65 306.51,221.87 307.02,222.10 307.54,222.32 308.05,222.55 308.57,222.77 309.08,223.00 309.60,223.22 310.11,223.45 310.62,223.67 311.14,223.90 311.65,224.12 312.17,224.34 312.68,224.57 313.20,224.79 313.71,225.01 314.23,225.23 314.74,225.45 315.26,225.67 315.77,225.89 316.29,226.11 316.80,226.33 317.31,226.55 317.83,226.76 318.34,226.98 318.86,227.20 319.37,227.41 319.89,227.63 320.40,227.84 320.92,228.05 321.43,228.27 321.95,228.48 322.46,228.69 322.98,228.90 323.49,229.11 324.00,229.32 324.52,229.53 325.03,229.73 325.55,229.94 326.06,230.14 326.58,230.35 327.09,230.55 327.61,230.75 328.12,230.96 328.64,231.16 329.15,231.36 329.66,231.55 330.18,231.75 330.69,231.95 331.21,232.14 331.72,232.34 332.24,232.53 332.75,232.72 333.27,232.92 333.78,233.10 334.30,233.29 334.81,233.48 335.32,233.67 335.84,233.85 336.35,234.04 336.87,234.22 337.38,234.40 337.90,234.58 338.41,234.76 338.93,234.94 339.44,235.11 339.96,235.29 340.47,235.46 340.99,235.63 341.50,235.80" fill="none" stroke="#50e0e0" stroke-width="1.0"/>
<ellipse cx="218.30" cy="194.87" rx="1.95" ry="1.4" fill="#40d4d0"/>
<ellipse cx="223.27" cy="195.01" rx="1.95" ry="1.4" fill="#40d4d0"/>
<ellipse cx="228.23" cy="195.40" rx="1.95" ry="1.4" fill="#40d4d0"/>
<ellipse cx="233.20" cy="196.02" rx="1.95" ry="1.4" fill="#40d4d0"/>
<ellipse cx="238.16" cy="196.86" rx="1.95" ry="1.4" fill="#40d4d0"/>
<ellipse cx="243.12" cy="197.90" rx="1.95" ry="1.4" fill="#40d4d0"/>
<ellipse cx="248.09" cy="199.13" rx="1.95" ry="1.4" fill="#40d4d0"/>
<ellipse cx="253.06" cy="200.52" rx="1.95" ry="1.4" fill="#40d4d0"/>
<ellipse cx="258.02" cy="202.07" rx="1.95" ry="1.4" fill="#40d4d0"/>
<ellipse cx="262.99" cy="203.75" rx="1.95" ry="1.4" fill="#40d4d0"/>
<ellipse cx="267.95" cy="205.56" rx="1.95" ry="1.4" fill="#40d4d0"/>
<ellipse cx="272.92" cy="207.46" rx="1.95" ry="1.4" fill="#40d4d0"/>
<ellipse cx="277.88" cy="209.46" rx="1.95" ry="1.4" fill="#40d4d0"/>
<ellipse cx="282.85" cy="211.53" rx="1.95" ry="1.4" fill="#40d4d0"/>
<ellipse cx="287.81" cy="213.65" rx="1.95" ry="1.4" fill="#40d4d0"/>
<ellipse cx="292.77" cy="215.81" rx="1.95" ry="1.4" fill="#40d4d0"/>
<ellipse cx="297.74" cy="218.00" rx="1.95" ry="1.4" fill="#40d4d0"/>
<ellipse cx="302.71" cy="220.20" rx="1.95" ry="1.4" fill="#40d4d0"/>
<ellipse cx="307.67" cy="222.38" rx="1.95" ry="1.4" fill="#40d4d0"/>
<ellipse cx="312.63" cy="224.54" rx="1.95" ry="1.4" fill="#40d4d0"/>
<ellipse cx="317.60" cy="226.67" rx="1.95" ry="1.4" fill="#40d4d0"/>
<ellipse cx="322.56" cy="228.73" rx="1.95" ry="1.4" fill="#40d4d0"/>
<ellipse cx="327.53" cy="230.72" rx="1.95" ry="1.4" fill="#40d4d0"/>
<ellipse cx="332.50" cy="232.63" rx="1.95" ry="1.4" fill="#40d4d0"/>
<ellipse cx="337.46" cy="234.43" rx="1.95" ry="1.4" fill="#40d4d0"/>
<ellipse cx="341.30" cy="235.74" rx="1.95" ry="1.4" fill="#40d4d0"/>
<polyline points="218.00,154.72 218.51,154.72 219.03,154.72 219.54,154.74 220.06,154.76 220.57,154.79 221.09,154.82 221.60,154.87 222.12,154.92 222.63,154.98 223.15,155.05 223.66,155.12 224.18,155.21 224.69,155.29 225.20,155.39 225.72,155.49 226.23,155.61 226.75,155.72 227.26,155.85 227.78,155.98 228.29,156.12 228.81,156.26 229.32,156.41 229.84,156.57 230.35,156.73 230.86,156.90 231.38,157.08 231.89,157.26 232.41,157.45 232.92,157.65 233.44,157.85 233.95,158.06 234.47,158.27 234.98,158.49 235.50,158.71 236.01,158.94 236.53,159.18 237.04,159.42 237.55,159.67 238.07,159.92 238.58,160.18 239.10,160.44 239.61,160.71 240.13,160.99 240.64,161.26 241.16,161.55 241.67,161.84 242.19,162.13 242.70,162.43 243.21,162.73 243.73,163.04 244.24,163.35 244.76,163.67 245.27,163.99 245.79,164.31 246.30,164.64 246.82,164.98 247.33,165.32 247.85,165.66 248.36,166.01 248.88,166.36 249.39,166.71 249.90,167.07 250.42,167.43 250.93,167.80 251.45,168.16 251.96,168.54 252.48,168.91 252.99,169.29 253.51,169.68 254.02,170.06 254.54,170.45 255.05,170.84 255.56,171.24 256.08,171.64 256.59,172.04 257.11,172.44 257.62,172.85 258.14,173.26 258.65,173.67 259.17,174.09 259.68,174.51 260.20,174.93 260.71,175.35 261.23,175.77 261.74,176.20 262.25,176.63 262.77,177.06 263.28,177.49 263.80,177.93 264.31,178.37 264.83,178.81 265.34,179.25 265.86,179.69 266.37,180.13 266.89,180.58 267.40,181.02 267.91,181.47 268.43,181.92 268.94,182.37 269.46,182.83 269.97,183.28 270.49,183.73 271.00,184.19 271.52,184.64 272.03,185.10 272.55,185.56 273.06,186.02 273.57,186.48 274.09,186.94 274.60,187.40 275.12,187.86 275.63,188.32 276.15,188.78 276.66,189.24 277.18,189.70 277.69,190.16 278.21,190.63 278.72,191.09 279.24,191.55 279.75,192.01 280.26,192.47 280.78,192.93 281.29,193.39 281.81,193.85 282.32,194.31 282.84,194.77 283.35,195.23 283.87,195.69 284.38,196.15 284.90,196.61 285.41,197.07 285.93,197.52 286.44,197.98 286.95,198.44 287.47,198.89 287.98,199.34 288.50,199.80 289.01,200.25 289.53,200.70 290.04,201.15 290.56,201.60 291.07,202.05 291.59,202.49 292.10,202.94 292.61,203.39 293.13,203.83 293.64,204.27 294.16,204.71 294.67,205.15 295.19,205.59 295.70,206.03 296.22,206.46 296.73,206.90 297.25,207.33 297.76,207.76 298.27,208.19 298.79,208.62 299.30,209.04 299.82,209.47 300.33,209.89 300.85,210.31 301.36,210.73 301.88,211.15 302.39,211.56 302.91,211.97 303.42,212.39 303.94,212.79 304.45,213.20 304.96,213.61 305.48,214.01 305.99,214.41 306.51,214.81 307.02,215.20 307.54,215.59 308.05,215.99 308.57,216.37 309.08,216.76 309.60,217.14 310.11,217.52 310.62,217.90 311.14,218.28 311.65,218.65 312.17,219.02 312.68,219.39 313.20,219.75 313.71,220.11 314.23,220.47 314.74,220.83 315.26,221.18 315.77,221.53 316.29,221.88 316.80,222.22 317.31,222.56 317.83,222.90 318.34,223.23 318.86,223.56 319.37,223.89 319.89,224.21 320.40,224.53 320.92,224.85 321.43,225.16 321.95,225.47 322.46,225.78 322.98,226.08 323.49,226.38 324.00,226.68 324.52,226.97 325.03,227.26 325.55,227.54 326.06,227.82 326.58,228.10 327.09,228.37 327.61,228.64 328.12,228.91 328.64,229.17 329.15,229.42 329.66,229.68 330.18,229.92 330.69,230.17 331.21,230.41 331.72,230.64 332.24,230.87 332.75,231.10 333.27,231.32 333.78,231.54 334.30,231.75 334.81,231.96 335.32,232.17 335.84,232.37 336.35,232.56 336.87,232.75 337.38,232.94 337.90,233.12 338.41,233.29 338.93,233.46 339.44,233.63 339.96,233.79 340.47,233.94 340.99,234.09 341.50,234.24" fill="none" stroke="#faecec" stroke-width="4" stroke-linejoin="round"/>
<polyline points="218.00,154.72 218.51,154.72 219.03,154.72 219.54,154.74 220.06,154.76 220.57,154.79 221.09,154.82 221.60,154.87 222.12,154.92 222.63,154.98 223.15,155.05 223.66,155.12 224.18,155.21 224.69,155.29 225.20,155.39 225.72,155.49 226.23,155.61 226.75,155.72 227.26,155.85 227.78,155.98 228.29,156.12 228.81,156.26 229.32,156.41 229.84,156.57 230.35,156.73 230.86,156.90 231.38,157.08 231.89,157.26 232.41,157.45 232.92,157.65 233.44,157.85 233.95,158.06 234.47,158.27 234.98,158.49 235.50,158.71 236.01,158.94 236.53,159.18 237.04,159.42 237.55,159.67 238.07,159.92 238.58,160.18 239.10,160.44 239.61,160.71 240.13,160.99 240.64,161.26 241.16,161.55 241.67,161.84 242.19,162.13 242.70,162.43 243.21,162.73 243.73,163.04 244.24,163.35 244.76,163.67 245.27,163.99 245.79,164.31 246.30,164.64 246.82,164.98 247.33,165.32 247.85,165.66 248.36,166.01 248.88,166.36 249.39,166.71 249.90,167.07 250.42,167.43 250.93,167.80 251.45,168.16 251.96,168.54 252.48,168.91 252.99,169.29 253.51,169.68 254.02,170.06 254.54,170.45 255.05,170.84 255.56,171.24 256.08,171.64 256.59,172.04 257.11,172.44 257.62,172.85 258.14,173.26 258.65,173.67 259.17,174.09 259.68,174.51 260.20,174.93 260.71,175.35 261.23,175.77 261.74,176.20 262.25,176.63 262.77,177.06 263.28,177.49 263.80,177.93 264.31,178.37 264.83,178.81 265.34,179.25 265.86,179.69 266.37,180.13 266.89,180.58 267.40,181.02 267.91,181.47 268.43,181.92 268.94,182.37 269.46,182.83 269.97,183.28 270.49,183.73 271.00,184.19 271.52,184.64 272.03,185.10 272.55,185.56 273.06,186.02 273.57,186.48 274.09,186.94 274.60,187.40 275.12,187.86 275.63,188.32 276.15,188.78 276.66,189.24 277.18,189.70 277.69,190.16 278.21,190.63 278.72,191.09 279.24,191.55 279.75,192.01 280.26,192.47 280.78,192.93 281.29,193.39 281.81,193.85 282.32,194.31 282.84,194.77 283.35,195.23 283.87,195.69 284.38,196.15 284.90,196.61 285.41,197.07 285.93,197.52 286.44,197.98 286.95,198.44 287.47,198.89 287.98,199.34 288.50,199.80 289.01,200.25 289.53,200.70 290.04,201.15 290.56,201.60 291.07,202.05 291.59,202.49 292.10,202.94 292.61,203.39 293.13,203.83 293.64,204.27 294.16,204.71 294.67,205.15 295.19,205.59 295.70,206.03 296.22,206.46 296.73,206.90 297.25,207.33 297.76,207.76 298.27,208.19 298.79,208.62 299.30,209.04 299.82,209.47 300.33,209.89 300.85,210.31 301.36,210.73 301.88,211.15 302.39,211.56 302.91,211.97 303.42,212.39 303.94,212.79 304.45,213.20 304.96,213.61 305.48,214.01 305.99,214.41 306.51,214.81 307.02,215.20 307.54,215.59 308.05,215.99 308.57,216.37 309.08,216.76 309.60,217.14 310.11,217.52 310.62,217.90 311.14,218.28 311.65,218.65 312.17,219.02 312.68,219.39 313.20,219.75 313.71,220.11 314.23,220.47 314.74,220.83 315.26,221.18 315.77,221.53 316.29,221.88 316.80,222.22 317.31,222.56 317.83,222.90 318.34,223.23 318.86,223.56 319.37,223.89 319.89,224.21 320.40,224.53 320.92,224.85 321.43,225.16 321.95,225.47 322.46,225.78 322.98,226.08 323.49,226.38 324.00,226.68 324.52,226.97 325.03,227.26 325.55,227.54 326.06,227.82 326.58,228.10 327.09,228.37 327.61,228.64 328.12,228.91 328.64,229.17 329.15,229.42 329.66,229.68 330.18,229.92 330.69,230.17 331.21,230.41 331.72,230.64 332.24,230.87 332.75,231.10 333.27,231.32 333.78,231.54 334.30,231.75 334.81,231.96 335.32,232.17 335.84,232.37 336.35,232.56 336.87,232.75 337.38,232.94 337.90,233.12 338.41,233.29 338.93,233.46 339.44,233.63 339.96,233.79 340.47,233.94 340.99,234.09 341.50,234.24" fill="none" stroke="#c04040" stroke-width="1.0"/>
<ellipse cx="218.30" cy="154.72" rx="1.95" ry="1.4" fill="#501818"/>
<ellipse cx="223.27" cy="155.07" rx="1.95" ry="1.4" fill="#501818"/>
<ellipse cx="228.23" cy="156.10" rx="1.95" ry="1.4" fill="#501818"/>
<ellipse cx="233.20" cy="157.75" rx="1.95" ry="1.4" fill="#501818"/>
<ellipse cx="238.16" cy="159.97" rx="1.95" ry="1.4" fill="#501818"/>
<ellipse cx="243.12" cy="162.68" rx="1.95" ry="1.4" fill="#501818"/>
<ellipse cx="248.09" cy="165.82" rx="1.95" ry="1.4" fill="#501818"/>
<ellipse cx="253.06" cy="169.34" rx="1.95" ry="1.4" fill="#501818"/>
<ellipse cx="258.02" cy="173.17" rx="1.95" ry="1.4" fill="#501818"/>
<ellipse cx="262.99" cy="177.24" rx="1.95" ry="1.4" fill="#501818"/>
<ellipse cx="267.95" cy="181.50" rx="1.95" ry="1.4" fill="#501818"/>
<ellipse cx="272.92" cy="185.89" rx="1.95" ry="1.4" fill="#501818"/>
<ellipse cx="277.88" cy="190.33" rx="1.95" ry="1.4" fill="#501818"/>
<ellipse cx="282.85" cy="194.78" rx="1.95" ry="1.4" fill="#501818"/>
<ellipse cx="287.81" cy="199.19" rx="1.95" ry="1.4" fill="#501818"/>
<ellipse cx="292.77" cy="203.52" rx="1.95" ry="1.4" fill="#501818"/>
<ellipse cx="297.74" cy="207.74" rx="1.95" ry="1.4" fill="#501818"/>
<ellipse cx="302.71" cy="211.81" rx="1.95" ry="1.4" fill="#501818"/>
<ellipse cx="307.67" cy="215.70" rx="1.95" ry="1.4" fill="#501818"/>
<ellipse cx="312.63" cy="219.35" rx="1.95" ry="1.4" fill="#501818"/>
<ellipse cx="317.60" cy="222.75" rx="1.95" ry="1.4" fill="#501818"/>
<ellipse cx="322.56" cy="225.84" rx="1.95" ry="1.4" fill="#501818"/>
<ellipse cx="327.53" cy="228.60" rx="1.95" ry="1.4" fill="#501818"/>
<ellipse cx="332.50" cy="230.99" rx="1.95" ry="1.4" fill="#501818"/>
<ellipse cx="337.46" cy="232.96" rx="1.95" ry="1.4" fill="#501818"/>
<ellipse cx="341.30" cy="234.18" rx="1.95" ry="1.4" fill="#501818"/>
<polyline points="218.00,17.00 218.51,17.02 219.03,17.09 219.54,17.21 220.06,17.36 220.57,17.54 221.09,17.76 221.60,18.01 222.12,18.28 222.63,18.58 223.15,18.90 223.66,19.44 224.18,20.23 224.69,21.23 225.20,22.41 225.72,23.72 226.23,25.12 226.75,26.58 227.26,28.06 227.78,29.52 228.29,30.92 228.81,32.27 229.32,33.68 229.84,35.13 230.35,36.63 230.86,38.16 231.38,39.73 231.89,41.31 232.41,42.91 232.92,44.52 233.44,46.13 233.95,47.78 234.47,49.47 234.98,51.18 235.50,52.92 236.01,54.66 236.53,56.41 237.04,58.14 237.55,59.85 238.07,61.52 238.58,63.18 239.10,64.84 239.61,66.49 240.13,68.13 240.64,69.76 241.16,71.38 241.67,72.97 242.19,74.55 242.70,76.10 243.21,77.63 243.73,79.13 244.24,80.60 244.76,82.05 245.27,83.49 245.79,84.92 246.30,86.34 246.82,87.76 247.33,89.19 247.85,90.62 248.36,92.07 248.88,93.53 249.39,94.98 249.90,96.44 250.42,97.90 250.93,99.36 251.45,100.83 251.96,102.29 252.48,103.76 252.99,105.23 253.51,106.71 254.02,108.21 254.54,109.73 255.05,111.27 255.56,112.81 256.08,114.33 256.59,115.82 257.11,117.28 257.62,118.67 258.14,120.01 258.65,121.29 259.17,122.53 259.68,123.74 260.20,124.93 260.71,126.09 261.23,127.24 261.74,128.39 262.25,129.54 262.77,130.69 263.28,131.86 263.80,133.05 264.31,134.24 264.83,135.43 265.34,136.62 265.86,137.81 266.37,138.99 266.89,140.15 267.40,141.31 267.91,142.45 268.43,143.56 268.94,144.66 269.46,145.74 269.97,146.80 270.49,147.86 271.00,148.90 271.52,149.94 272.03,150.97 272.55,151.99 273.06,153.02 273.57,154.05 274.09,155.08 274.60,156.10 275.12,157.13 275.63,158.14 276.15,159.16 276.66,160.16 277.18,161.16 277.69,162.15 278.21,163.13 278.72,164.10 279.24,165.06 279.75,166.01 280.26,166.96 280.78,167.89 281.29,168.82 281.81,169.75 282.32,170.67 282.84,171.59 283.35,172.51 283.87,173.43 284.38,174.35 284.90,175.27 285.41,176.18 285.93,177.08 286.44,177.97 286.95,178.85 287.47,179.70 287.98,180.53 288.50,181.34 289.01,182.12 289.53,182.88 290.04,183.64 290.56,184.38 291.07,185.12 291.59,185.86 292.10,186.61 292.61,187.37 293.13,188.15 293.64,188.95 294.16,189.78 294.67,190.61 295.19,191.45 295.70,192.28 296.22,193.09 296.73,193.89 297.25,194.65 297.76,195.38 298.27,196.06 298.79,196.71 299.30,197.33 299.82,197.94 300.33,198.52 300.85,199.10 301.36,199.66 301.88,200.23 302.39,200.79 302.91,201.37 303.42,201.95 303.94,202.54 304.45,203.12 304.96,203.71 305.48,204.29 305.99,204.87 306.51,205.45 307.02,206.02 307.54,206.59 308.05,207.15 308.57,207.70 309.08,208.25 309.60,208.79 310.11,209.33 310.62,209.87 311.14,210.40 311.65,210.93 312.17,211.45 312.68,211.98 313.20,212.51 313.71,213.03 314.23,213.56 314.74,214.08 315.26,214.60 315.77,215.11 316.29,215.63 316.80,216.14 317.31,216.64 317.83,217.14 318.34,217.63 318.86,218.11 319.37,218.59 319.89,219.06 320.40,219.53 320.92,220.00 321.43,220.46 321.95,220.93 322.46,221.40 322.98,221.87 323.49,222.35 324.00,222.84 324.52,223.33 325.03,223.82 325.55,224.31 326.06,224.79 326.58,225.26 327.09,225.70 327.61,226.13 328.12,226.53 328.64,226.93 329.15,227.33 329.66,227.73 330.18,228.12 330.69,228.51 331.21,228.89 331.72,229.27 332.24,229.64 332.75,230.01 333.27,230.38 333.78,230.73 334.30,231.09 334.81,231.43 335.32,231.77 335.84,232.10 336.35,232.43 336.87,232.75 337.38,233.06 337.90,233.36 338.41,233.65 338.93,233.94 339.44,234.22 339.96,234.49 340.47,234.74 340.99,234.99 341.50,235.23" fill="none" stroke="#6a9c9c" stroke-width="1.0"/>
<ellipse cx="218.30" cy="17.01" rx="1.95" ry="1.4" fill="#2a6262"/>
<ellipse cx="223.27" cy="19.00" rx="1.95" ry="1.4" fill="#2a6262"/>
<ellipse cx="228.23" cy="30.75" rx="1.95" ry="1.4" fill="#2a6262"/>
<ellipse cx="233.20" cy="45.37" rx="1.95" ry="1.4" fill="#2a6262"/>
<ellipse cx="238.16" cy="61.82" rx="1.95" ry="1.4" fill="#2a6262"/>
<ellipse cx="243.12" cy="77.37" rx="1.95" ry="1.4" fill="#2a6262"/>
<ellipse cx="248.09" cy="91.31" rx="1.95" ry="1.4" fill="#2a6262"/>
<ellipse cx="253.06" cy="105.41" rx="1.95" ry="1.4" fill="#2a6262"/>
<ellipse cx="258.02" cy="119.71" rx="1.95" ry="1.4" fill="#2a6262"/>
<ellipse cx="262.99" cy="131.18" rx="1.95" ry="1.4" fill="#2a6262"/>
<ellipse cx="267.95" cy="142.52" rx="1.95" ry="1.4" fill="#2a6262"/>
<ellipse cx="272.92" cy="152.73" rx="1.95" ry="1.4" fill="#2a6262"/>
<ellipse cx="277.88" cy="162.51" rx="1.95" ry="1.4" fill="#2a6262"/>
<ellipse cx="282.85" cy="171.60" rx="1.95" ry="1.4" fill="#2a6262"/>
<ellipse cx="287.81" cy="180.26" rx="1.95" ry="1.4" fill="#2a6262"/>
<ellipse cx="292.77" cy="187.61" rx="1.95" ry="1.4" fill="#2a6262"/>
<ellipse cx="297.74" cy="195.35" rx="1.95" ry="1.4" fill="#2a6262"/>
<ellipse cx="302.71" cy="201.14" rx="1.95" ry="1.4" fill="#2a6262"/>
<ellipse cx="307.67" cy="206.73" rx="1.95" ry="1.4" fill="#2a6262"/>
<ellipse cx="312.63" cy="211.93" rx="1.95" ry="1.4" fill="#2a6262"/>
<ellipse cx="317.60" cy="216.92" rx="1.95" ry="1.4" fill="#2a6262"/>
<ellipse cx="322.56" cy="221.49" rx="1.95" ry="1.4" fill="#2a6262"/>
<ellipse cx="327.53" cy="226.06" rx="1.95" ry="1.4" fill="#2a6262"/>
<ellipse cx="332.50" cy="229.83" rx="1.95" ry="1.4" fill="#2a6262"/>
<ellipse cx="337.46" cy="233.10" rx="1.95" ry="1.4" fill="#2a6262"/>
<ellipse cx="341.30" cy="235.14" rx="1.95" ry="1.4" fill="#2a6262"/>
<polyline points="394.00,194.28 394.51,194.28 395.03,194.28 395.54,194.29 396.06,194.29 396.57,194.29 397.08,194.29 397.60,194.30 398.11,194.30 398.62,194.30 399.14,194.31 399.65,194.31 400.17,194.32 400.68,194.33 401.19,194.33 401.71,194.34 402.22,194.35 402.73,194.35 403.25,194.36 403.76,194.37 404.27,194.38 404.79,194.39 405.30,194.40 405.82,194.41 406.33,194.43 406.84,194.44 407.36,194.45 407.87,194.46 408.38,194.48 408.90,194.49 409.41,194.51 409.93,194.52 410.44,194.54 410.95,194.55 411.47,194.57 411.98,194.59 412.50,194.60 413.01,194.62 413.52,194.64 414.04,194.66 414.55,194.68 415.06,194.70 415.58,194.72 416.09,194.74 416.61,194.76 417.12,194.78 417.63,194.81 418.15,194.83 418.66,194.85 419.17,194.88 419.69,194.90 420.20,194.93 420.71,194.95 421.23,194.98 421.74,195.00 422.26,195.03 422.77,195.06 423.28,195.08 423.80,195.11 424.31,195.14 424.82,195.17 425.34,195.20 425.85,195.23 426.37,195.26 426.88,195.29 427.39,195.33 427.91,195.36 428.42,195.39 428.94,195.42 429.45,195.46 429.96,195.49 430.48,195.53 430.99,195.56 431.50,195.60 432.02,195.63 432.53,195.67 433.04,195.71 433.56,195.75 434.07,195.78 434.59,195.82 435.10,195.86 435.61,195.90 436.13,195.94 436.64,195.98 437.15,196.02 437.67,196.06 438.18,196.11 438.70,196.15 439.21,196.19 439.72,196.24 440.24,196.28 440.75,196.32 441.26,196.37 441.78,196.41 442.29,196.46 442.81,196.51 443.32,196.55 443.83,196.60 444.35,196.65 444.86,196.70 445.38,196.75 445.89,196.80 446.40,196.85 446.92,196.90 447.43,196.95 447.94,197.00 448.46,197.05 448.97,197.10 449.48,197.16 450.00,197.21 450.51,197.26 451.03,197.32 451.54,197.37 452.05,197.43 452.57,197.48 453.08,197.54 453.59,197.60 454.11,197.65 454.62,197.71 455.14,197.77 455.65,197.83 456.16,197.89 456.68,197.95 457.19,198.01 457.70,198.07 458.22,198.13 458.73,198.19 459.25,198.25 459.76,198.32 460.27,198.38 460.79,198.44 461.30,198.51 461.81,198.57 462.33,198.64 462.84,198.70 463.36,198.77 463.87,198.84 464.38,198.90 464.90,198.97 465.41,199.04 465.92,199.11 466.44,199.18 466.95,199.24 467.47,199.31 467.98,199.39 468.49,199.46 469.01,199.53 469.52,199.60 470.03,199.67 470.55,199.74 471.06,199.82 471.58,199.89 472.09,199.97 472.60,200.04 473.12,200.12 473.63,200.19 474.14,200.27 474.66,200.35 475.17,200.42 475.69,200.50 476.20,200.58 476.71,200.66 477.23,200.74 477.74,200.82 478.25,200.90 478.77,200.98 479.28,201.06 479.80,201.14 480.31,201.22 480.82,201.31 481.34,201.39 481.85,201.47 482.36,201.56 482.88,201.64 483.39,201.73 483.91,201.81 484.42,201.90 484.93,201.98 485.45,202.07 485.96,202.16 486.47,202.25 486.99,202.34 487.50,202.42 488.02,202.51 488.53,202.60 489.04,202.69 489.56,202.79 490.07,202.88 490.58,202.97 491.10,203.06 491.61,203.15 492.13,203.25 492.64,203.34 493.15,203.44 493.67,203.53 494.18,203.63 494.69,203.72 495.21,203.82 495.72,203.91 496.24,204.01 496.75,204.11 497.26,204.21 497.78,204.31 498.29,204.41 498.80,204.50 499.32,204.60 499.83,204.71 500.35,204.81 500.86,204.91 501.37,205.01 501.89,205.11 502.40,205.22 502.91,205.32 503.43,205.42 503.94,205.53 504.46,205.63 504.97,205.74 505.48,205.84 506.00,205.95 506.51,206.06 507.02,206.17 507.54,206.27 508.05,206.38 508.57,206.49 509.08,206.60 509.59,206.71 510.11,206.82 510.62,206.93 511.13,207.04 511.65,207.15 512.16,207.27 512.68,207.38 513.19,207.49 513.70,207.61 514.22,207.72 514.73,207.84 515.24,207.95 515.76,208.07 516.27,208.18 516.79,208.30 517.30,208.42" fill="none" stroke="#444444" stroke-width="1.0"/>
<ellipse cx="394.20" cy="194.28" rx="1.25" ry="1.3" fill="#000000"/>
<ellipse cx="399.18" cy="194.31" rx="1.25" ry="1.3" fill="#000000"/>
<ellipse cx="404.16" cy="194.38" rx="1.25" ry="1.3" fill="#000000"/>
<ellipse cx="409.14" cy="194.50" rx="1.25" ry="1.3" fill="#000000"/>
<ellipse cx="414.12" cy="194.66" rx="1.25" ry="1.3" fill="#000000"/>
<ellipse cx="419.10" cy="194.87" rx="1.25" ry="1.3" fill="#000000"/>
<ellipse cx="424.08" cy="195.13" rx="1.25" ry="1.3" fill="#000000"/>
<ellipse cx="429.06" cy="195.43" rx="1.25" ry="1.3" fill="#000000"/>
<ellipse cx="434.04" cy="195.78" rx="1.25" ry="1.3" fill="#000000"/>
<ellipse cx="439.02" cy="196.18" rx="1.25" ry="1.3" fill="#000000"/>
<ellipse cx="444.00" cy="196.62" rx="1.25" ry="1.3" fill="#000000"/>
<ellipse cx="448.98" cy="197.10" rx="1.25" ry="1.3" fill="#000000"/>
<ellipse cx="453.96" cy="197.64" rx="1.25" ry="1.3" fill="#000000"/>
<ellipse cx="458.94" cy="198.22" rx="1.25" ry="1.3" fill="#000000"/>
<ellipse cx="463.92" cy="198.84" rx="1.25" ry="1.3" fill="#000000"/>
<ellipse cx="468.90" cy="199.51" rx="1.25" ry="1.3" fill="#000000"/>
<ellipse cx="473.88" cy="200.23" rx="1.25" ry="1.3" fill="#000000"/>
<ellipse cx="478.86" cy="200.99" rx="1.25" ry="1.3" fill="#000000"/>
<ellipse cx="483.84" cy="201.80" rx="1.25" ry="1.3" fill="#000000"/>
<ellipse cx="488.82" cy="202.65" rx="1.25" ry="1.3" fill="#000000"/>
<ellipse cx="493.80" cy="203.55" rx="1.25" ry="1.3" fill="#000000"/>
<ellipse cx="498.78" cy="204.50" rx="1.25" ry="1.3" fill="#000000"/>
<ellipse cx="503.76" cy="205.49" rx="1.25" ry="1.3" fill="#000000"/>
<ellipse cx="508.74" cy="206.53" rx="1.25" ry="1.3" fill="#000000"/>
<ellipse cx="513.72" cy="207.61" rx="1.25" ry="1.3" fill="#000000"/>
<ellipse cx="517.20" cy="208.39" rx="1.25" ry="1.3" fill="#000000"/>
<polyline points="394.00,179.30 394.51,179.31 395.03,179.31 395.54,179.31 396.06,179.32 396.57,179.32 397.08,179.33 397.60,179.34 398.11,179.36 398.62,179.37 399.14,179.38 399.65,179.40 400.17,179.42 400.68,179.44 401.19,179.46 401.71,179.48 402.22,179.51 402.73,179.53 403.25,179.56 403.76,179.59 404.27,179.62 404.79,179.65 405.30,179.68 405.82,179.72 406.33,179.75 406.84,179.79 407.36,179.83 407.87,179.87 408.38,179.91 408.90,179.96 409.41,180.00 409.93,180.05 410.44,180.09 410.95,180.14 411.47,180.19 411.98,180.25 412.50,180.30 413.01,180.35 413.52,180.41 414.04,180.47 414.55,180.52 415.06,180.58 415.58,180.64 416.09,180.71 416.61,180.77 417.12,180.84 417.63,180.90 418.15,180.97 418.66,181.04 419.17,181.11 419.69,181.18 420.20,181.25 420.71,181.33 421.23,181.40 421.74,181.48 422.26,181.55 422.77,181.63 423.28,181.71 423.80,181.79 424.31,181.88 424.82,181.96 425.34,182.05 425.85,182.13 426.37,182.22 426.88,182.31 427.39,182.40 427.91,182.49 428.42,182.58 428.94,182.67 429.45,182.76 429.96,182.86 430.48,182.95 430.99,183.05 431.50,183.15 432.02,183.25 432.53,183.35 433.04,183.45 433.56,183.55 434.07,183.66 434.59,183.76 435.10,183.87 435.61,183.97 436.13,184.08 436.64,184.19 437.15,184.30 437.67,184.41 438.18,184.52 438.70,184.63 439.21,184.75 439.72,184.86 440.24,184.98 440.75,185.09 441.26,185.21 441.78,185.33 442.29,185.45 442.81,185.57 443.32,185.69 443.83,185.81 444.35,185.94 444.86,186.06 445.38,186.18 445.89,186.31 446.40,186.44 446.92,186.56 447.43,186.69 447.94,186.82 448.46,186.95 448.97,187.08 449.48,187.21 450.00,187.34 450.51,187.48 451.03,187.61 451.54,187.74 452.05,187.88 452.57,188.02 453.08,188.15 453.59,188.29 454.11,188.43 454.62,188.57 455.14,188.71 455.65,188.85 456.16,188.99 456.68,189.13 457.19,189.27 457.70,189.42 458.22,189.56 458.73,189.71 459.25,189.85 459.76,190.00 460.27,190.15 460.79,190.29 461.30,190.44 461.81,190.59 462.33,190.74 462.84,190.89 463.36,191.04 463.87,191.19 464.38,191.34 464.90,191.50 465.41,191.65 465.92,191.80 466.44,191.96 466.95,192.11 467.47,192.27 467.98,192.42 468.49,192.58 469.01,192.73 469.52,192.89 470.03,193.05 470.55,193.21 471.06,193.37 471.58,193.53 472.09,193.69 472.60,193.85 473.12,194.01 473.63,194.17 474.14,194.33 474.66,194.49 475.17,194.66 475.69,194.82 476.20,194.98 476.71,195.15 477.23,195.31 477.74,195.48 478.25,195.64 478.77,195.81 479.28,195.97 479.80,196.14 480.31,196.30 480.82,196.47 481.34,196.64 481.85,196.81 482.36,196.97 482.88,197.14 483.39,197.31 483.91,197.48 484.42,197.65 484.93,197.82 485.45,197.99 485.96,198.16 486.47,198.33 486.99,198.50 487.50,198.67 488.02,198.84 488.53,199.01 489.04,199.19 489.56,199.36 490.07,199.53 490.58,199.70 491.10,199.87 491.61,200.05 492.13,200.22 492.64,200.39 493.15,200.57 493.67,200.74 494.18,200.91 494.69,201.09 495.21,201.26 495.72,201.43 496.24,201.61 496.75,201.78 497.26,201.96 497.78,202.13 498.29,202.31 498.80,202.48 499.32,202.66 499.83,202.83 500.35,203.01 500.86,203.18 501.37,203.36 501.89,203.53 502.40,203.71 502.91,203.88 503.43,204.06 503.94,204.23 504.46,204.41 504.97,204.58 505.48,204.76 506.00,204.93 506.51,205.11 507.02,205.28 507.54,205.46 508.05,205.63 508.57,205.81 509.08,205.98 509.59,206.16 510.11,206.33 510.62,206.51 511.13,206.68 511.65,206.85 512.16,207.03 512.68,207.20 513.19,207.38 513.70,207.55 514.22,207.73 514.73,207.90 515.24,208.07 515.76,208.25 516.27,208.42 516.79,208.59 517.30,208.76" fill="none" stroke="#aaaaaa" stroke-width="1.0"/>
<ellipse cx="394.20" cy="179.30" rx="1.25" ry="1.3" fill="#6a6a6a"/>
<ellipse cx="399.18" cy="179.39" rx="1.25" ry="1.3" fill="#6a6a6a"/>
<ellipse cx="404.16" cy="179.61" rx="1.25" ry="1.3" fill="#6a6a6a"/>
<ellipse cx="409.14" cy="179.98" rx="1.25" ry="1.3" fill="#6a6a6a"/>
<ellipse cx="414.12" cy="180.48" rx="1.25" ry="1.3" fill="#6a6a6a"/>
<ellipse cx="419.10" cy="181.10" rx="1.25" ry="1.3" fill="#6a6a6a"/>
<ellipse cx="424.08" cy="181.84" rx="1.25" ry="1.3" fill="#6a6a6a"/>
<ellipse cx="429.06" cy="182.69" rx="1.25" ry="1.3" fill="#6a6a6a"/>
<ellipse cx="434.04" cy="183.65" rx="1.25" ry="1.3" fill="#6a6a6a"/>
<ellipse cx="439.02" cy="184.71" rx="1.25" ry="1.3" fill="#6a6a6a"/>
<ellipse cx="444.00" cy="185.85" rx="1.25" ry="1.3" fill="#6a6a6a"/>
<ellipse cx="448.98" cy="187.08" rx="1.25" ry="1.3" fill="#6a6a6a"/>
<ellipse cx="453.96" cy="188.39" rx="1.25" ry="1.3" fill="#6a6a6a"/>
<ellipse cx="458.94" cy="189.77" rx="1.25" ry="1.3" fill="#6a6a6a"/>
<ellipse cx="463.92" cy="191.21" rx="1.25" ry="1.3" fill="#6a6a6a"/>
<ellipse cx="468.90" cy="192.70" rx="1.25" ry="1.3" fill="#6a6a6a"/>
<ellipse cx="473.88" cy="194.25" rx="1.25" ry="1.3" fill="#6a6a6a"/>
<ellipse cx="478.86" cy="195.84" rx="1.25" ry="1.3" fill="#6a6a6a"/>
<ellipse cx="483.84" cy="197.46" rx="1.25" ry="1.3" fill="#6a6a6a"/>
<ellipse cx="488.82" cy="199.11" rx="1.25" ry="1.3" fill="#6a6a6a"/>
<ellipse cx="493.80" cy="200.78" rx="1.25" ry="1.3" fill="#6a6a6a"/>
<ellipse cx="498.78" cy="202.47" rx="1.25" ry="1.3" fill="#6a6a6a"/>
<ellipse cx="503.76" cy="204.17" rx="1.25" ry="1.3" fill="#6a6a6a"/>
<ellipse cx="508.74" cy="205.87" rx="1.25" ry="1.3" fill="#6a6a6a"/>
<ellipse cx="513.72" cy="207.56" rx="1.25" ry="1.3" fill="#6a6a6a"/>
<ellipse cx="517.20" cy="208.73" rx="1.25" ry="1.3" fill="#6a6a6a"/>
<polyline points="394.00,168.16 394.51,168.16 395.03,168.17 395.54,168.17 396.06,168.18 396.57,168.20 397.08,168.21 397.60,168.23 398.11,168.26 398.62,168.28 399.14,168.31 399.65,168.34 400.17,168.37 400.68,168.41 401.19,168.45 401.71,168.49 402.22,168.54 402.73,168.58 403.25,168.63 403.76,168.69 404.27,168.74 404.79,168.80 405.30,168.86 405.82,168.93 406.33,168.99 406.84,169.06 407.36,169.13 407.87,169.21 408.38,169.28 408.90,169.36 409.41,169.44 409.93,169.53 410.44,169.61 410.95,169.70 411.47,169.79 411.98,169.88 412.50,169.98 413.01,170.08 413.52,170.18 414.04,170.28 414.55,170.38 415.06,170.49 415.58,170.60 416.09,170.71 416.61,170.82 417.12,170.94 417.63,171.05 418.15,171.17 418.66,171.29 419.17,171.42 419.69,171.54 420.20,171.67 420.71,171.80 421.23,171.93 421.74,172.06 422.26,172.20 422.77,172.33 423.28,172.47 423.80,172.61 424.31,172.75 424.82,172.90 425.34,173.04 425.85,173.19 426.37,173.34 426.88,173.49 427.39,173.64 427.91,173.79 428.42,173.95 428.94,174.11 429.45,174.26 429.96,174.42 430.48,174.59 430.99,174.75 431.50,174.91 432.02,175.08 432.53,175.25 433.04,175.42 433.56,175.59 434.07,175.76 434.59,175.93 435.10,176.10 435.61,176.28 436.13,176.46 436.64,176.63 437.15,176.81 437.67,176.99 438.18,177.17 438.70,177.36 439.21,177.54 439.72,177.72 440.24,177.91 440.75,178.10 441.26,178.29 441.78,178.47 442.29,178.66 442.81,178.85 443.32,179.05 443.83,179.24 444.35,179.43 444.86,179.63 445.38,179.82 445.89,180.02 446.40,180.22 446.92,180.41 447.43,180.61 447.94,180.81 448.46,181.01 448.97,181.21 449.48,181.41 450.00,181.61 450.51,181.82 451.03,182.02 451.54,182.22 452.05,182.43 452.57,182.63 453.08,182.84 453.59,183.04 454.11,183.25 454.62,183.46 455.14,183.66 455.65,183.87 456.16,184.08 456.68,184.29 457.19,184.50 457.70,184.71 458.22,184.92 458.73,185.13 459.25,185.34 459.76,185.55 460.27,185.76 460.79,185.97 461.30,186.18 461.81,186.39 462.33,186.60 462.84,186.81 463.36,187.03 463.87,187.24 464.38,187.45 464.90,187.66 465.41,187.88 465.92,188.09 466.44,188.30 466.95,188.51 467.47,188.73 467.98,188.94 468.49,189.15 469.01,189.37 469.52,189.58 470.03,189.79 470.55,190.01 471.06,190.22 471.58,190.43 472.09,190.65 472.60,190.86 473.12,191.07 473.63,191.28 474.14,191.50 474.66,191.71 475.17,191.92 475.69,192.13 476.20,192.35 476.71,192.56 477.23,192.77 477.74,192.98 478.25,193.19 478.77,193.40 479.28,193.61 479.80,193.82 480.31,194.03 480.82,194.24 481.34,194.45 481.85,194.66 482.36,194.87 482.88,195.08 483.39,195.29 483.91,195.50 484.42,195.70 484.93,195.91 485.45,196.12 485.96,196.32 486.47,196.53 486.99,196.73 487.50,196.94 488.02,197.14 488.53,197.34 489.04,197.55 489.56,197.75 490.07,197.95 490.58,198.15 491.10,198.35 491.61,198.55 492.13,198.75 492.64,198.95 493.15,199.15 493.67,199.34 494.18,199.54 494.69,199.74 495.21,199.93 495.72,200.13 496.24,200.32 496.75,200.51 497.26,200.70 497.78,200.89 498.29,201.09 498.80,201.27 499.32,201.46 499.83,201.65 500.35,201.84 500.86,202.02 501.37,202.21 501.89,202.39 502.40,202.58 502.91,202.76 503.43,202.94 503.94,203.12 504.46,203.30 504.97,203.48 505.48,203.66 506.00,203.83 506.51,204.01 507.02,204.18 507.54,204.36 508.05,204.53 508.57,204.70 509.08,204.87 509.59,205.04 510.11,205.20 510.62,205.37 511.13,205.54 511.65,205.70 512.16,205.86 512.68,206.02 513.19,206.19 513.70,206.34 514.22,206.50 514.73,206.66 515.24,206.81 515.76,206.97 516.27,207.12 516.79,207.27 517.30,207.42" fill="none" stroke="#fde6e6" stroke-width="4" stroke-linejoin="round"/>
<polyline points="394.00,168.16 394.51,168.16 395.03,168.17 395.54,168.17 396.06,168.18 396.57,168.20 397.08,168.21 397.60,168.23 398.11,168.26 398.62,168.28 399.14,168.31 399.65,168.34 400.17,168.37 400.68,168.41 401.19,168.45 401.71,168.49 402.22,168.54 402.73,168.58 403.25,168.63 403.76,168.69 404.27,168.74 404.79,168.80 405.30,168.86 405.82,168.93 406.33,168.99 406.84,169.06 407.36,169.13 407.87,169.21 408.38,169.28 408.90,169.36 409.41,169.44 409.93,169.53 410.44,169.61 410.95,169.70 411.47,169.79 411.98,169.88 412.50,169.98 413.01,170.08 413.52,170.18 414.04,170.28 414.55,170.38 415.06,170.49 415.58,170.60 416.09,170.71 416.61,170.82 417.12,170.94 417.63,171.05 418.15,171.17 418.66,171.29 419.17,171.42 419.69,171.54 420.20,171.67 420.71,171.80 421.23,171.93 421.74,172.06 422.26,172.20 422.77,172.33 423.28,172.47 423.80,172.61 424.31,172.75 424.82,172.90 425.34,173.04 425.85,173.19 426.37,173.34 426.88,173.49 427.39,173.64 427.91,173.79 428.42,173.95 428.94,174.11 429.45,174.26 429.96,174.42 430.48,174.59 430.99,174.75 431.50,174.91 432.02,175.08 432.53,175.25 433.04,175.42 433.56,175.59 434.07,175.76 434.59,175.93 435.10,176.10 435.61,176.28 436.13,176.46 436.64,176.63 437.15,176.81 437.67,176.99 438.18,177.17 438.70,177.36 439.21,177.54 439.72,177.72 440.24,177.91 440.75,178.10 441.26,178.29 441.78,178.47 442.29,178.66 442.81,178.85 443.32,179.05 443.83,179.24 444.35,179.43 444.86,179.63 445.38,179.82 445.89,180.02 446.40,180.22 446.92,180.41 447.43,180.61 447.94,180.81 448.46,181.01 448.97,181.21 449.48,181.41 450.00,181.61 450.51,181.82 451.03,182.02 451.54,182.22 452.05,182.43 452.57,182.63 453.08,182.84 453.59,183.04 454.11,183.25 454.62,183.46 455.14,183.66 455.65,183.87 456.16,184.08 456.68,184.29 457.19,184.50 457.70,184.71 458.22,184.92 458.73,185.13 459.25,185.34 459.76,185.55 460.27,185.76 460.79,185.97 461.30,186.18 461.81,186.39 462.33,186.60 462.84,186.81 463.36,187.03 463.87,187.24 464.38,187.45 464.90,187.66 465.41,187.88 465.92,188.09 466.44,188.30 466.95,188.51 467.47,188.73 467.98,188.94 468.49,189.15 469.01,189.37 469.52,189.58 470.03,189.79 470.55,190.01 471.06,190.22 471.58,190.43 472.09,190.65 472.60,190.86 473.12,191.07 473.63,191.28 474.14,191.50 474.66,191.71 475.17,191.92 475.69,192.13 476.20,192.35 476.71,192.56 477.23,192.77 477.74,192.98 478.25,193.19 478.77,193.40 479.28,193.61 479.80,193.82 480.31,194.03 480.82,194.24 481.34,194.45 481.85,194.66 482.36,194.87 482.88,195.08 483.39,195.29 483.91,195.50 484.42,195.70 484.93,195.91 485.45,196.12 485.96,196.32 486.47,196.53 486.99,196.73 487.50,196.94 488.02,197.14 488.53,197.34 489.04,197.55 489.56,197.75 490.07,197.95 490.58,198.15 491.10,198.35 491.61,198.55 492.13,198.75 492.64,198.95 493.15,199.15 493.67,199.34 494.18,199.54 494.69,199.74 495.21,199.93 495.72,200.13 496.24,200.32 496.75,200.51 497.26,200.70 497.78,200.89 498.29,201.09 498.80,201.27 499.32,201.46 499.83,201.65 500.35,201.84 500.86,202.02 501.37,202.21 501.89,202.39 502.40,202.58 502.91,202.76 503.43,202.94 503.94,203.12 504.46,203.30 504.97,203.48 505.48,203.66 506.00,203.83 506.51,204.01 507.02,204.18 507.54,204.36 508.05,204.53 508.57,204.70 509.08,204.87 509.59,205.04 510.11,205.20 510.62,205.37 511.13,205.54 511.65,205.70 512.16,205.86 512.68,206.02 513.19,206.19 513.70,206.34 514.22,206.50 514.73,206.66 515.24,206.81 515.76,206.97 516.27,207.12 516.79,207.27 517.30,207.42" fill="none" stroke="#f08080" stroke-width="1.0"/>
<ellipse cx="394.20" cy="168.16" rx="1.25" ry="1.3" fill="#b01020"/>
<ellipse cx="399.18" cy="168.31" rx="1.25" ry="1.3" fill="#b01020"/>
<ellipse cx="404.16" cy="168.73" rx="1.25" ry="1.3" fill="#b01020"/>
<ellipse cx="409.14" cy="169.40" rx="1.25" ry="1.3" fill="#b01020"/>
<ellipse cx="414.12" cy="170.30" rx="1.25" ry="1.3" fill="#b01020"/>
<ellipse cx="419.10" cy="171.40" rx="1.25" ry="1.3" fill="#b01020"/>
<ellipse cx="424.08" cy="172.69" rx="1.25" ry="1.3" fill="#b01020"/>
<ellipse cx="429.06" cy="174.14" rx="1.25" ry="1.3" fill="#b01020"/>
<ellipse cx="434.04" cy="175.75" rx="1.25" ry="1.3" fill="#b01020"/>
<ellipse cx="439.02" cy="177.47" rx="1.25" ry="1.3" fill="#b01020"/>
<ellipse cx="444.00" cy="179.30" rx="1.25" ry="1.3" fill="#b01020"/>
<ellipse cx="448.98" cy="181.21" rx="1.25" ry="1.3" fill="#b01020"/>
<ellipse cx="453.96" cy="183.19" rx="1.25" ry="1.3" fill="#b01020"/>
<ellipse cx="458.94" cy="185.21" rx="1.25" ry="1.3" fill="#b01020"/>
<ellipse cx="463.92" cy="187.26" rx="1.25" ry="1.3" fill="#b01020"/>
<ellipse cx="468.90" cy="189.32" rx="1.25" ry="1.3" fill="#b01020"/>
<ellipse cx="473.88" cy="191.39" rx="1.25" ry="1.3" fill="#b01020"/>
<ellipse cx="478.86" cy="193.44" rx="1.25" ry="1.3" fill="#b01020"/>
<ellipse cx="483.84" cy="195.47" rx="1.25" ry="1.3" fill="#b01020"/>
<ellipse cx="488.82" cy="197.46" rx="1.25" ry="1.3" fill="#b01020"/>
<ellipse cx="493.80" cy="199.39" rx="1.25" ry="1.3" fill="#b01020"/>
<ellipse cx="498.78" cy="201.27" rx="1.25" ry="1.3" fill="#b01020"/>
<ellipse cx="503.76" cy="203.06" rx="1.25" ry="1.3" fill="#b01020"/>
<ellipse cx="508.74" cy="204.76" rx="1.25" ry="1.3" fill="#b01020"/>
<ellipse cx="513.72" cy="206.35" rx="1.25" ry="1.3" fill="#b01020"/>
<ellipse cx="517.20" cy="207.39" rx="1.25" ry="1.3" fill="#b01020"/>
<polyline points="394.00,93.79 394.51,93.80 395.03,93.82 395.54,93.88 396.06,93.95 396.57,94.05 397.08,94.17 397.60,94.32 398.11,94.48 398.62,94.67 399.14,94.88 399.65,95.11 400.17,95.35 400.68,95.62 401.19,95.91 401.71,96.21 402.22,96.54 402.73,96.88 403.25,97.24 403.76,97.61 404.27,98.00 404.79,98.41 405.30,98.83 405.82,99.26 406.33,99.71 406.84,100.18 407.36,100.65 407.87,101.14 408.38,101.64 408.90,102.16 409.41,102.68 409.93,103.21 410.44,103.76 410.95,104.31 411.47,104.88 411.98,105.45 412.50,106.03 413.01,106.62 413.52,107.21 414.04,107.81 414.55,108.42 415.06,109.04 415.58,109.66 416.09,110.28 416.61,110.91 417.12,111.55 417.63,112.19 418.15,112.83 418.66,113.48 419.17,114.13 419.69,114.79 420.20,115.45 420.71,116.11 421.23,116.78 421.74,117.44 422.26,118.11 422.77,118.78 423.28,119.46 423.80,120.13 424.31,120.81 424.82,121.48 425.34,122.16 425.85,122.84 426.37,123.51 426.88,124.19 427.39,124.87 427.91,125.54 428.42,126.22 428.94,126.89 429.45,127.56 429.96,128.23 430.48,128.90 430.99,129.57 431.50,130.24 432.02,130.90 432.53,131.56 433.04,132.22 433.56,132.88 434.07,133.53 434.59,134.19 435.10,134.84 435.61,135.49 436.13,136.14 436.64,136.79 437.15,137.43 437.67,138.08 438.18,138.72 438.70,139.36 439.21,139.99 439.72,140.63 440.24,141.26 440.75,141.89 441.26,142.52 441.78,143.15 442.29,143.77 442.81,144.39 443.32,145.01 443.83,145.63 444.35,146.24 444.86,146.86 445.38,147.47 445.89,148.08 446.40,148.68 446.92,149.29 447.43,149.89 447.94,150.49 448.46,151.08 448.97,151.68 449.48,152.27 450.00,152.86 450.51,153.44 451.03,154.03 451.54,154.61 452.05,155.19 452.57,155.76 453.08,156.34 453.59,156.91 454.11,157.48 454.62,158.04 455.14,158.60 455.65,159.16 456.16,159.72 456.68,160.28 457.19,160.83 457.70,161.38 458.22,161.92 458.73,162.47 459.25,163.01 459.76,163.54 460.27,164.08 460.79,164.61 461.30,165.14 461.81,165.66 462.33,166.19 462.84,166.71 463.36,167.22 463.87,167.74 464.38,168.25 464.90,168.76 465.41,169.26 465.92,169.77 466.44,170.27 466.95,170.76 467.47,171.26 467.98,171.75 468.49,172.24 469.01,172.73 469.52,173.21 470.03,173.69 470.55,174.17 471.06,174.65 471.58,175.12 472.09,175.59 472.60,176.06 473.12,176.52 473.63,176.98 474.14,177.44 474.66,177.90 475.17,178.35 475.69,178.81 476.20,179.25 476.71,179.70 477.23,180.15 477.74,180.59 478.25,181.03 478.77,181.46 479.28,181.89 479.80,182.33 480.31,182.75 480.82,183.18 481.34,183.60 481.85,184.02 482.36,184.44 482.88,184.86 483.39,185.27 483.91,185.68 484.42,186.09 484.93,186.50 485.45,186.90 485.96,187.30 486.47,187.70 486.99,188.10 487.50,188.49 488.02,188.88 488.53,189.27 489.04,189.66 489.56,190.04 490.07,190.43 490.58,190.81 491.10,191.18 491.61,191.56 492.13,191.93 492.64,192.30 493.15,192.67 493.67,193.03 494.18,193.40 494.69,193.76 495.21,194.12 495.72,194.47 496.24,194.83 496.75,195.18 497.26,195.53 497.78,195.88 498.29,196.22 498.80,196.57 499.32,196.91 499.83,197.25 500.35,197.59 500.86,197.92 501.37,198.25 501.89,198.58 502.40,198.91 502.91,199.24 503.43,199.56 503.94,199.88 504.46,200.20 504.97,200.52 505.48,200.84 506.00,201.15 506.51,201.46 507.02,201.77 507.54,202.08 508.05,202.38 508.57,202.69 509.08,202.99 509.59,203.29 510.11,203.58 510.62,203.88 511.13,204.17 511.65,204.46 512.16,204.75 512.68,205.04 513.19,205.33 513.70,205.61 514.22,205.89 514.73,206.17 515.24,206.45 515.76,206.72 516.27,207.00 516.79,207.27 517.30,207.54" fill="none" stroke="#e2f6e2" stroke-width="4" stroke-linejoin="round"/>
<polyline points="394.00,93.79 394.51,93.80 395.03,93.82 395.54,93.88 396.06,93.95 396.57,94.05 397.08,94.17 397.60,94.32 398.11,94.48 398.62,94.67 399.14,94.88 399.65,95.11 400.17,95.35 400.68,95.62 401.19,95.91 401.71,96.21 402.22,96.54 402.73,96.88 403.25,97.24 403.76,97.61 404.27,98.00 404.79,98.41 405.30,98.83 405.82,99.26 406.33,99.71 406.84,100.18 407.36,100.65 407.87,101.14 408.38,101.64 408.90,102.16 409.41,102.68 409.93,103.21 410.44,103.76 410.95,104.31 411.47,104.88 411.98,105.45 412.50,106.03 413.01,106.62 413.52,107.21 414.04,107.81 414.55,108.42 415.06,109.04 415.58,109.66 416.09,110.28 416.61,110.91 417.12,111.55 417.63,112.19 418.15,112.83 418.66,113.48 419.17,114.13 419.69,114.79 420.20,115.45 420.71,116.11 421.23,116.78 421.74,117.44 422.26,118.11 422.77,118.78 423.28,119.46 423.80,120.13 424.31,120.81 424.82,121.48 425.34,122.16 425.85,122.84 426.37,123.51 426.88,124.19 427.39,124.87 427.91,125.54 428.42,126.22 428.94,126.89 429.45,127.56 429.96,128.23 430.48,128.90 430.99,129.57 431.50,130.24 432.02,130.90 432.53,131.56 433.04,132.22 433.56,132.88 434.07,133.53 434.59,134.19 435.10,134.84 435.61,135.49 436.13,136.14 436.64,136.79 437.15,137.43 437.67,138.08 438.18,138.72 438.70,139.36 439.21,139.99 439.72,140.63 440.24,141.26 440.75,141.89 441.26,142.52 441.78,143.15 442.29,143.77 442.81,144.39 443.32,145.01 443.83,145.63 444.35,146.24 444.86,146.86 445.38,147.47 445.89,148.08 446.40,148.68 446.92,149.29 447.43,149.89 447.94,150.49 448.46,151.08 448.97,151.68 449.48,152.27 450.00,152.86 450.51,153.44 451.03,154.03 451.54,154.61 452.05,155.19 452.57,155.76 453.08,156.34 453.59,156.91 454.11,157.48 454.62,158.04 455.14,158.60 455.65,159.16 456.16,159.72 456.68,160.28 457.19,160.83 457.70,161.38 458.22,161.92 458.73,162.47 459.25,163.01 459.76,163.54 460.27,164.08 460.79,164.61 461.30,165.14 461.81,165.66 462.33,166.19 462.84,166.71 463.36,167.22 463.87,167.74 464.38,168.25 464.90,168.76 465.41,169.26 465.92,169.77 466.44,170.27 466.95,170.76 467.47,171.26 467.98,171.75 468.49,172.24 469.01,172.73 469.52,173.21 470.03,173.69 470.55,174.17 471.06,174.65 471.58,175.12 472.09,175.59 472.60,176.06 473.12,176.52 473.63,176.98 474.14,177.44 474.66,177.90 475.17,178.35 475.69,178.81 476.20,179.25 476.71,179.70 477.23,180.15 477.74,180.59 478.25,181.03 478.77,181.46 479.28,181.89 479.80,182.33 480.31,182.75 480.82,183.18 481.34,183.60 481.85,184.02 482.36,184.44 482.88,184.86 483.39,185.27 483.91,185.68 484.42,186.09 484.93,186.50 485.45,186.90 485.96,187.30 486.47,187.70 486.99,188.10 487.50,188.49 488.02,188.88 488.53,189.27 489.04,189.66 489.56,190.04 490.07,190.43 490.58,190.81 491.10,191.18 491.61,191.56 492.13,191.93 492.64,192.30 493.15,192.67 493.67,193.03 494.18,193.40 494.69,193.76 495.21,194.12 495.72,194.47 496.24,194.83 496.75,195.18 497.26,195.53 497.78,195.88 498.29,196.22 498.80,196.57 499.32,196.91 499.83,197.25 500.35,197.59 500.86,197.92 501.37,198.25 501.89,198.58 502.40,198.91 502.91,199.24 503.43,199.56 503.94,199.88 504.46,200.20 504.97,200.52 505.48,200.84 506.00,201.15 506.51,201.46 507.02,201.77 507.54,202.08 508.05,202.38 508.57,202.69 509.08,202.99 509.59,203.29 510.11,203.58 510.62,203.88 511.13,204.17 511.65,204.46 512.16,204.75 512.68,205.04 513.19,205.33 513.70,205.61 514.22,205.89 514.73,206.17 515.24,206.45 515.76,206.72 516.27,207.00 516.79,207.27 517.30,207.54" fill="none" stroke="#40a040" stroke-width="1.0"/>
<ellipse cx="394.20" cy="93.79" rx="1.25" ry="1.3" fill="#145a14"/>
<ellipse cx="399.18" cy="94.90" rx="1.25" ry="1.3" fill="#145a14"/>
<ellipse cx="404.16" cy="97.91" rx="1.25" ry="1.3" fill="#145a14"/>
<ellipse cx="409.14" cy="102.40" rx="1.25" ry="1.3" fill="#145a14"/>
<ellipse cx="414.12" cy="107.91" rx="1.25" ry="1.3" fill="#145a14"/>
<ellipse cx="419.10" cy="114.04" rx="1.25" ry="1.3" fill="#145a14"/>
<ellipse cx="424.08" cy="120.50" rx="1.25" ry="1.3" fill="#145a14"/>
<ellipse cx="429.06" cy="127.06" rx="1.25" ry="1.3" fill="#145a14"/>
<ellipse cx="434.04" cy="133.49" rx="1.25" ry="1.3" fill="#145a14"/>
<ellipse cx="439.02" cy="139.76" rx="1.25" ry="1.3" fill="#145a14"/>
<ellipse cx="444.00" cy="145.83" rx="1.25" ry="1.3" fill="#145a14"/>
<ellipse cx="448.98" cy="151.69" rx="1.25" ry="1.3" fill="#145a14"/>
<ellipse cx="453.96" cy="157.31" rx="1.25" ry="1.3" fill="#145a14"/>
<ellipse cx="458.94" cy="162.68" rx="1.25" ry="1.3" fill="#145a14"/>
<ellipse cx="463.92" cy="167.79" rx="1.25" ry="1.3" fill="#145a14"/>
<ellipse cx="468.90" cy="172.63" rx="1.25" ry="1.3" fill="#145a14"/>
<ellipse cx="473.88" cy="177.21" rx="1.25" ry="1.3" fill="#145a14"/>
<ellipse cx="478.86" cy="181.54" rx="1.25" ry="1.3" fill="#145a14"/>
<ellipse cx="483.84" cy="185.63" rx="1.25" ry="1.3" fill="#145a14"/>
<ellipse cx="488.82" cy="189.49" rx="1.25" ry="1.3" fill="#145a14"/>
<ellipse cx="493.80" cy="193.13" rx="1.25" ry="1.3" fill="#145a14"/>
<ellipse cx="498.78" cy="196.55" rx="1.25" ry="1.3" fill="#145a14"/>
<ellipse cx="503.76" cy="199.77" rx="1.25" ry="1.3" fill="#145a14"/>
<ellipse cx="508.74" cy="202.79" rx="1.25" ry="1.3" fill="#145a14"/>
<ellipse cx="513.72" cy="205.62" rx="1.25" ry="1.3" fill="#145a14"/>
<ellipse cx="517.20" cy="207.49" rx="1.25" ry="1.3" fill="#145a14"/>
<polyline points="394.00,16.05 394.51,16.09 395.03,16.20 395.54,16.37 396.06,16.59 396.57,16.87 397.08,17.21 397.60,17.59 398.11,18.03 398.62,18.52 399.14,19.05 399.65,19.64 400.17,20.26 400.68,20.94 401.19,21.65 401.71,22.41 402.22,23.21 402.73,24.04 403.25,24.91 403.76,25.82 404.27,26.76 404.79,27.74 405.30,28.74 405.82,29.78 406.33,30.84 406.84,31.93 407.36,33.05 407.87,34.19 408.38,35.36 408.90,36.54 409.41,37.75 409.93,38.97 410.44,40.21 410.95,41.47 411.47,42.74 411.98,44.03 412.50,45.32 413.01,46.63 413.52,47.94 414.04,49.26 414.55,50.59 415.06,51.92 415.58,53.26 416.09,54.60 416.61,55.94 417.12,57.29 417.63,58.64 418.15,59.99 418.66,61.34 419.17,62.70 419.69,64.05 420.20,65.41 420.71,66.76 421.23,68.11 421.74,69.47 422.26,70.81 422.77,72.16 423.28,73.50 423.80,74.84 424.31,76.18 424.82,77.51 425.34,78.83 425.85,80.15 426.37,81.47 426.88,82.77 427.39,84.07 427.91,85.36 428.42,86.64 428.94,87.92 429.45,89.18 429.96,90.44 430.48,91.68 430.99,92.92 431.50,94.15 432.02,95.37 432.53,96.58 433.04,97.78 433.56,98.97 434.07,100.15 434.59,101.33 435.10,102.49 435.61,103.65 436.13,104.80 436.64,105.94 437.15,107.07 437.67,108.19 438.18,109.30 438.70,110.41 439.21,111.51 439.72,112.59 440.24,113.67 440.75,114.75 441.26,115.81 441.78,116.87 442.29,117.92 442.81,118.95 443.32,119.99 443.83,121.01 444.35,122.03 444.86,123.03 445.38,124.04 445.89,125.03 446.40,126.01 446.92,126.99 447.43,127.96 447.94,128.92 448.46,129.88 448.97,130.82 449.48,131.76 450.00,132.70 450.51,133.62 451.03,134.54 451.54,135.45 452.05,136.35 452.57,137.25 453.08,138.14 453.59,139.02 454.11,139.90 454.62,140.77 455.14,141.63 455.65,142.48 456.16,143.33 456.68,144.17 457.19,145.00 457.70,145.83 458.22,146.65 458.73,147.47 459.25,148.28 459.76,149.08 460.27,149.87 460.79,150.66 461.30,151.44 461.81,152.22 462.33,152.99 462.84,153.76 463.36,154.51 463.87,155.26 464.38,156.01 464.90,156.75 465.41,157.48 465.92,158.21 466.44,158.93 466.95,159.65 467.47,160.36 467.98,161.06 468.49,161.76 469.01,162.45 469.52,163.14 470.03,163.82 470.55,164.50 471.06,165.17 471.58,165.83 472.09,166.49 472.60,167.14 473.12,167.79 473.63,168.43 474.14,169.07 474.66,169.70 475.17,170.33 475.69,170.95 476.20,171.57 476.71,172.18 477.23,172.79 477.74,173.39 478.25,173.99 478.77,174.58 479.28,175.17 479.80,175.75 480.31,176.33 480.82,176.90 481.34,177.47 481.85,178.03 482.36,178.59 482.88,179.14 483.39,179.69 483.91,180.23 484.42,180.77 484.93,181.31 485.45,181.84 485.96,182.37 486.47,182.89 486.99,183.41 487.50,183.92 488.02,184.43 488.53,184.94 489.04,185.44 489.56,185.94 490.07,186.43 490.58,186.92 491.10,187.40 491.61,187.89 492.13,188.36 492.64,188.84 493.15,189.31 493.67,189.77 494.18,190.24 494.69,190.70 495.21,191.15 495.72,191.60 496.24,192.05 496.75,192.49 497.26,192.94 497.78,193.37 498.29,193.81 498.80,194.24 499.32,194.67 499.83,195.09 500.35,195.51 500.86,195.93 501.37,196.34 501.89,196.76 502.40,197.16 502.91,197.57 503.43,197.97 503.94,198.37 504.46,198.77 504.97,199.16 505.48,199.55 506.00,199.94 506.51,200.33 507.02,200.71 507.54,201.09 508.05,201.47 508.57,201.84 509.08,202.22 509.59,202.59 510.11,202.95 510.62,203.32 511.13,203.68 511.65,204.04 512.16,204.40 512.68,204.76 513.19,205.11 513.70,205.46 514.22,205.81 514.73,206.16 515.24,206.50 515.76,206.85 516.27,207.19 516.79,207.53 517.30,207.87" fill="none" stroke="#f6e2f8" stroke-width="4" stroke-linejoin="round"/>
<polyline points="394.00,16.05 394.51,16.09 395.03,16.20 395.54,16.37 396.06,16.59 396.57,16.87 397.08,17.21 397.60,17.59 398.11,18.03 398.62,18.52 399.14,19.05 399.65,19.64 400.17,20.26 400.68,20.94 401.19,21.65 401.71,22.41 402.22,23.21 402.73,24.04 403.25,24.91 403.76,25.82 404.27,26.76 404.79,27.74 405.30,28.74 405.82,29.78 406.33,30.84 406.84,31.93 407.36,33.05 407.87,34.19 408.38,35.36 408.90,36.54 409.41,37.75 409.93,38.97 410.44,40.21 410.95,41.47 411.47,42.74 411.98,44.03 412.50,45.32 413.01,46.63 413.52,47.94 414.04,49.26 414.55,50.59 415.06,51.92 415.58,53.26 416.09,54.60 416.61,55.94 417.12,57.29 417.63,58.64 418.15,59.99 418.66,61.34 419.17,62.70 419.69,64.05 420.20,65.41 420.71,66.76 421.23,68.11 421.74,69.47 422.26,70.81 422.77,72.16 423.28,73.50 423.80,74.84 424.31,76.18 424.82,77.51 425.34,78.83 425.85,80.15 426.37,81.47 426.88,82.77 427.39,84.07 427.91,85.36 428.42,86.64 428.94,87.92 429.45,89.18 429.96,90.44 430.48,91.68 430.99,92.92 431.50,94.15 432.02,95.37 432.53,96.58 433.04,97.78 433.56,98.97 434.07,100.15 434.59,101.33 435.10,102.49 435.61,103.65 436.13,104.80 436.64,105.94 437.15,107.07 437.67,108.19 438.18,109.30 438.70,110.41 439.21,111.51 439.72,112.59 440.24,113.67 440.75,114.75 441.26,115.81 441.78,116.87 442.29,117.92 442.81,118.95 443.32,119.99 443.83,121.01 444.35,122.03 444.86,123.03 445.38,124.04 445.89,125.03 446.40,126.01 446.92,126.99 447.43,127.96 447.94,128.92 448.46,129.88 448.97,130.82 449.48,131.76 450.00,132.70 450.51,133.62 451.03,134.54 451.54,135.45 452.05,136.35 452.57,137.25 453.08,138.14 453.59,139.02 454.11,139.90 454.62,140.77 455.14,141.63 455.65,142.48 456.16,143.33 456.68,144.17 457.19,145.00 457.70,145.83 458.22,146.65 458.73,147.47 459.25,148.28 459.76,149.08 460.27,149.87 460.79,150.66 461.30,151.44 461.81,152.22 462.33,152.99 462.84,153.76 463.36,154.51 463.87,155.26 464.38,156.01 464.90,156.75 465.41,157.48 465.92,158.21 466.44,158.93 466.95,159.65 467.47,160.36 467.98,161.06 468.49,161.76 469.01,162.45 469.52,163.14 470.03,163.82 470.55,164.50 471.06,165.17 471.58,165.83 472.09,166.49 472.60,167.14 473.12,167.79 473.63,168.43 474.14,169.07 474.66,169.70 475.17,170.33 475.69,170.95 476.20,171.57 476.71,172.18 477.23,172.79 477.74,173.39 478.25,173.99 478.77,174.58 479.28,175.17 479.80,175.75 480.31,176.33 480.82,176.90 481.34,177.47 481.85,178.03 482.36,178.59 482.88,179.14 483.39,179.69 483.91,180.23 484.42,180.77 484.93,181.31 485.45,181.84 485.96,182.37 486.47,182.89 486.99,183.41 487.50,183.92 488.02,184.43 488.53,184.94 489.04,185.44 489.56,185.94 490.07,186.43 490.58,186.92 491.10,187.40 491.61,187.89 492.13,188.36 492.64,188.84 493.15,189.31 493.67,189.77 494.18,190.24 494.69,190.70 495.21,191.15 495.72,191.60 496.24,192.05 496.75,192.49 497.26,192.94 497.78,193.37 498.29,193.81 498.80,194.24 499.32,194.67 499.83,195.09 500.35,195.51 500.86,195.93 501.37,196.34 501.89,196.76 502.40,197.16 502.91,197.57 503.43,197.97 503.94,198.37 504.46,198.77 504.97,199.16 505.48,199.55 506.00,199.94 506.51,200.33 507.02,200.71 507.54,201.09 508.05,201.47 508.57,201.84 509.08,202.22 509.59,202.59 510.11,202.95 510.62,203.32 511.13,203.68 511.65,204.04 512.16,204.40 512.68,204.76 513.19,205.11 513.70,205.46 514.22,205.81 514.73,206.16 515.24,206.50 515.76,206.85 516.27,207.19 516.79,207.53 517.30,207.87" fill="none" stroke="#a048b8" stroke-width="1.0"/>
<ellipse cx="394.20" cy="16.06" rx="1.25" ry="1.3" fill="#5a1a6a"/>
<ellipse cx="399.18" cy="19.10" rx="1.25" ry="1.3" fill="#5a1a6a"/>
<ellipse cx="404.16" cy="26.55" rx="1.25" ry="1.3" fill="#5a1a6a"/>
<ellipse cx="409.14" cy="37.11" rx="1.25" ry="1.3" fill="#5a1a6a"/>
<ellipse cx="414.12" cy="49.48" rx="1.25" ry="1.3" fill="#5a1a6a"/>
<ellipse cx="419.10" cy="62.50" rx="1.25" ry="1.3" fill="#5a1a6a"/>
<ellipse cx="424.08" cy="75.58" rx="1.25" ry="1.3" fill="#5a1a6a"/>
<ellipse cx="429.06" cy="88.23" rx="1.25" ry="1.3" fill="#5a1a6a"/>
<ellipse cx="434.04" cy="100.08" rx="1.25" ry="1.3" fill="#5a1a6a"/>
<ellipse cx="439.02" cy="111.10" rx="1.25" ry="1.3" fill="#5a1a6a"/>
<ellipse cx="444.00" cy="121.34" rx="1.25" ry="1.3" fill="#5a1a6a"/>
<ellipse cx="448.98" cy="130.84" rx="1.25" ry="1.3" fill="#5a1a6a"/>
<ellipse cx="453.96" cy="139.64" rx="1.25" ry="1.3" fill="#5a1a6a"/>
<ellipse cx="458.94" cy="147.80" rx="1.25" ry="1.3" fill="#5a1a6a"/>
<ellipse cx="463.92" cy="155.34" rx="1.25" ry="1.3" fill="#5a1a6a"/>
<ellipse cx="468.90" cy="162.31" rx="1.25" ry="1.3" fill="#5a1a6a"/>
<ellipse cx="473.88" cy="168.74" rx="1.25" ry="1.3" fill="#5a1a6a"/>
<ellipse cx="478.86" cy="174.68" rx="1.25" ry="1.3" fill="#5a1a6a"/>
<ellipse cx="483.84" cy="180.16" rx="1.25" ry="1.3" fill="#5a1a6a"/>
<ellipse cx="488.82" cy="185.22" rx="1.25" ry="1.3" fill="#5a1a6a"/>
<ellipse cx="493.80" cy="189.89" rx="1.25" ry="1.3" fill="#5a1a6a"/>
<ellipse cx="498.78" cy="194.22" rx="1.25" ry="1.3" fill="#5a1a6a"/>
<ellipse cx="503.76" cy="198.23" rx="1.25" ry="1.3" fill="#5a1a6a"/>
<ellipse cx="508.74" cy="201.97" rx="1.25" ry="1.3" fill="#5a1a6a"/>
<ellipse cx="513.72" cy="205.47" rx="1.25" ry="1.3" fill="#5a1a6a"/>
<ellipse cx="517.20" cy="207.80" rx="1.25" ry="1.3" fill="#5a1a6a"/>
<ellipse cx="221.2" cy="17.6" rx="3.1" ry="2.1" fill="#d6f0f0" stroke="#2f6a6a" stroke-width="0.9"/>
<text x="39.10" y="240.90" text-anchor="end" font-family="Liberation Serif" font-weight="bold" font-size="12.8" stroke="#fff" stroke-width="0.25">0.1</text>
<text x="39.10" y="203.82" text-anchor="end" font-family="Liberation Serif" font-weight="bold" font-size="12.8" stroke="#fff" stroke-width="0.25">0.15</text>
<text x="39.10" y="166.73" text-anchor="end" font-family="Liberation Serif" font-weight="bold" font-size="12.8" stroke="#fff" stroke-width="0.25">0.2</text>
<text x="39.10" y="129.65" text-anchor="end" font-family="Liberation Serif" font-weight="bold" font-size="12.8" stroke="#fff" stroke-width="0.25">0.25</text>
<text x="39.10" y="92.57" text-anchor="end" font-family="Liberation Serif" font-weight="bold" font-size="12.8" stroke="#fff" stroke-width="0.25">0.3</text>
<text x="39.10" y="55.48" text-anchor="end" font-family="Liberation Serif" font-weight="bold" font-size="12.8" stroke="#fff" stroke-width="0.25">0.35</text>
<text x="39.10" y="18.40" text-anchor="end" font-family="Liberation Serif" font-weight="bold" font-size="12.8" stroke="#fff" stroke-width="0.25">0.4</text>
<text x="42.50" y="250.3" text-anchor="middle" font-family="Liberation Serif" font-weight="bold" font-size="12.8" stroke="#fff" stroke-width="0.25">0</text>
<text x="67.10" y="250.3" text-anchor="middle" font-family="Liberation Serif" font-weight="bold" font-size="12.8" stroke="#fff" stroke-width="0.25">0.2</text>
<text x="91.70" y="250.3" text-anchor="middle" font-family="Liberation Serif" font-weight="bold" font-size="12.8" stroke="#fff" stroke-width="0.25">0.4</text>
<text x="116.30" y="250.3" text-anchor="middle" font-family="Liberation Serif" font-weight="bold" font-size="12.8" stroke="#fff" stroke-width="0.25">0.6</text>
<text x="140.90" y="250.3" text-anchor="middle" font-family="Liberation Serif" font-weight="bold" font-size="12.8" stroke="#fff" stroke-width="0.25">0.8</text>
<text x="165.50" y="250.3" text-anchor="middle" font-family="Liberation Serif" font-weight="bold" font-size="12.8" stroke="#fff" stroke-width="0.25">1</text>
<text x="214.60" y="238.03" text-anchor="end" font-family="Liberation Serif" font-weight="bold" font-size="12.8" stroke="#fff" stroke-width="0.25">0.1</text>
<text x="214.60" y="171.21" text-anchor="end" font-family="Liberation Serif" font-weight="bold" font-size="12.8" stroke="#fff" stroke-width="0.25">0.2</text>
<text x="214.60" y="104.39" text-anchor="end" font-family="Liberation Serif" font-weight="bold" font-size="12.8" stroke="#fff" stroke-width="0.25">0.3</text>
<text x="214.60" y="37.58" text-anchor="end" font-family="Liberation Serif" font-weight="bold" font-size="12.8" stroke="#fff" stroke-width="0.25">0.4</text>
<text x="218.00" y="250.3" text-anchor="middle" font-family="Liberation Serif" font-weight="bold" font-size="12.8" stroke="#fff" stroke-width="0.25">0</text>
<text x="242.70" y="250.3" text-anchor="middle" font-family="Liberation Serif" font-weight="bold" font-size="12.8" stroke="#fff" stroke-width="0.25">0.2</text>
<text x="267.40" y="250.3" text-anchor="middle" font-family="Liberation Serif" font-weight="bold" font-size="12.8" stroke="#fff" stroke-width="0.25">0.4</text>
<text x="292.10" y="250.3" text-anchor="middle" font-family="Liberation Serif" font-weight="bold" font-size="12.8" stroke="#fff" stroke-width="0.25">0.6</text>
<text x="316.80" y="250.3" text-anchor="middle" font-family="Liberation Serif" font-weight="bold" font-size="12.8" stroke="#fff" stroke-width="0.25">0.8</text>
<text x="341.50" y="250.3" text-anchor="middle" font-family="Liberation Serif" font-weight="bold" font-size="12.8" stroke="#fff" stroke-width="0.25">1</text>
<text x="390.60" y="240.90" text-anchor="end" font-family="Liberation Serif" font-weight="bold" font-size="12.8" stroke="#fff" stroke-width="0.25">0.05</text>
<text x="390.60" y="209.11" text-anchor="end" font-family="Liberation Serif" font-weight="bold" font-size="12.8" stroke="#fff" stroke-width="0.25">0.1</text>
<text x="390.60" y="177.33" text-anchor="end" font-family="Liberation Serif" font-weight="bold" font-size="12.8" stroke="#fff" stroke-width="0.25">0.15</text>
<text x="390.60" y="145.54" text-anchor="end" font-family="Liberation Serif" font-weight="bold" font-size="12.8" stroke="#fff" stroke-width="0.25">0.2</text>
<text x="390.60" y="113.76" text-anchor="end" font-family="Liberation Serif" font-weight="bold" font-size="12.8" stroke="#fff" stroke-width="0.25">0.25</text>
<text x="390.60" y="81.97" text-anchor="end" font-family="Liberation Serif" font-weight="bold" font-size="12.8" stroke="#fff" stroke-width="0.25">0.3</text>
<text x="390.60" y="50.19" text-anchor="end" font-family="Liberation Serif" font-weight="bold" font-size="12.8" stroke="#fff" stroke-width="0.25">0.35</text>
<text x="390.60" y="18.40" text-anchor="end" font-family="Liberation Serif" font-weight="bold" font-size="12.8" stroke="#fff" stroke-width="0.25">0.4</text>
<text x="394.00" y="250.3" text-anchor="middle" font-family="Liberation Serif" font-weight="bold" font-size="12.8" stroke="#fff" stroke-width="0.25">0</text>
<text x="418.66" y="250.3" text-anchor="middle" font-family="Liberation Serif" font-weight="bold" font-size="12.8" stroke="#fff" stroke-width="0.25">0.2</text>
<text x="443.32" y="250.3" text-anchor="middle" font-family="Liberation Serif" font-weight="bold" font-size="12.8" stroke="#fff" stroke-width="0.25">0.4</text>
<text x="467.98" y="250.3" text-anchor="middle" font-family="Liberation Serif" font-weight="bold" font-size="12.8" stroke="#fff" stroke-width="0.25">0.6</text>
<text x="492.64" y="250.3" text-anchor="middle" font-family="Liberation Serif" font-weight="bold" font-size="12.8" stroke="#fff" stroke-width="0.25">0.8</text>
<text x="517.30" y="250.3" text-anchor="middle" font-family="Liberation Serif" font-weight="bold" font-size="12.8" stroke="#fff" stroke-width="0.25">1</text>
<text x="74.0" y="7.9" font-family="Liberation Serif" font-weight="bold" font-size="11.6" stroke="#fff" stroke-width="0.2" textLength="54.5" lengthAdjust="spacingAndGlyphs">Rigid rotor</text>
<text x="247.0" y="7.9" font-family="Liberation Serif" font-weight="bold" font-size="11.6" stroke="#fff" stroke-width="0.2" textLength="65.5" lengthAdjust="spacingAndGlyphs">Bohm scaling</text>
<text x="411.0" y="7.9" font-family="Liberation Serif" font-weight="bold" font-size="11.6" stroke="#fff" stroke-width="0.2" textLength="94" lengthAdjust="spacingAndGlyphs"><tspan font-style="italic">E</tspan> independant of <tspan font-style="italic">B</tspan></text>
<text transform="translate(85.40,266.3) skewX(-14)" x="0" y="0" font-family="Liberation Serif" font-weight="bold" font-style="italic" font-size="11.7">ξ</text>
<text x="94.20" y="267.8" font-family="Liberation Serif" font-weight="bold" font-style="italic" font-size="11.7" fill="#666">=</text>
<text x="103.70" y="266.3" font-family="Liberation Serif" font-weight="bold" font-style="italic" font-size="12.6">r/r<tspan font-size="9" dy="1.5">0</tspan></text>
<text transform="translate(8.0,123.2) rotate(-90)" x="0" y="0" text-anchor="middle" font-family="Liberation Serif" font-weight="bold" font-style="italic" font-size="12.1">Ω / Ω<tspan font-size="8" dy="2.5">c</tspan><tspan dy="-2.5" fill="#555"> = </tspan>ω/ω<tspan font-size="8" dy="2.5">c</tspan></text>
<text transform="translate(261.15,266.3) skewX(-14)" x="0" y="0" font-family="Liberation Serif" font-weight="bold" font-style="italic" font-size="11.7">ξ</text>
<text x="269.95" y="267.8" font-family="Liberation Serif" font-weight="bold" font-style="italic" font-size="11.7" fill="#666">=</text>
<text x="279.45" y="266.3" font-family="Liberation Serif" font-weight="bold" font-style="italic" font-size="12.6">r/r<tspan font-size="9" dy="1.5">0</tspan></text>
<text transform="translate(191.6,123.2) rotate(-90)" x="0" y="0" text-anchor="middle" font-family="Liberation Serif" font-weight="bold" font-style="italic" font-size="12.1">Ω / Ω<tspan font-size="8" dy="2.5">c</tspan><tspan dy="-2.5" fill="#555"> = </tspan>ω/ω<tspan font-size="8" dy="2.5">c</tspan></text>
<text transform="translate(437.05,266.3) skewX(-14)" x="0" y="0" font-family="Liberation Serif" font-weight="bold" font-style="italic" font-size="11.7">ξ</text>
<text x="445.85" y="267.8" font-family="Liberation Serif" font-weight="bold" font-style="italic" font-size="11.7" fill="#666">=</text>
<text x="455.35" y="266.3" font-family="Liberation Serif" font-weight="bold" font-style="italic" font-size="12.6">r/r<tspan font-size="9" dy="1.5">0</tspan></text>
<text transform="translate(360.0,123.2) rotate(-90)" x="0" y="0" text-anchor="middle" font-family="Liberation Serif" font-weight="bold" font-style="italic" font-size="12.1">Ω / Ω<tspan font-size="8" dy="2.5">c</tspan><tspan dy="-2.5" fill="#555"> = </tspan>ω/ω<tspan font-size="8" dy="2.5">c</tspan></text>
<text x="145.5" y="33.9" font-family="Liberation Serif" font-size="14" font-style="italic">s</text>
<line x1="115.6" y1="47.70" x2="129.6" y2="47.70" stroke="#505050" stroke-width="1"/>
<circle cx="122.60" cy="47.70" r="1.85" fill="#000000"/>
<text x="144.4" y="51.60" font-family="Liberation Serif" font-size="12.6">1.8</text>
<line x1="115.6" y1="61.30" x2="129.6" y2="61.30" stroke="#a04848" stroke-width="1"/>
<circle cx="122.60" cy="61.30" r="1.85" fill="#e00000"/>
<text x="144.4" y="65.20" font-family="Liberation Serif" font-size="12.6">3.7</text>
<line x1="115.6" y1="74.90" x2="129.6" y2="74.90" stroke="#407840" stroke-width="1"/>
<circle cx="122.60" cy="74.90" r="1.85" fill="#007000"/>
<text x="144.4" y="78.80" font-family="Liberation Serif" font-size="12.6">5.7</text>
<line x1="115.6" y1="88.50" x2="129.6" y2="88.50" stroke="#3838a0" stroke-width="1"/>
<circle cx="122.60" cy="88.50" r="1.85" fill="#0000c8"/>
<text x="144.4" y="92.40" font-family="Liberation Serif" font-size="12.6">6.5</text>
<line x1="115.6" y1="102.10" x2="129.6" y2="102.10" stroke="#48b8b8" stroke-width="1"/>
<circle cx="122.60" cy="102.10" r="1.85" fill="#20d4c4"/>
<text x="144.4" y="106.00" font-family="Liberation Serif" font-size="12.6">7.3</text>
<text x="321.6" y="34.5" font-family="Liberation Serif" font-size="14" font-style="italic">s</text>
<line x1="292.2" y1="47.80" x2="307.2" y2="47.80" stroke="#888" stroke-width="1"/>
<circle cx="299.70" cy="47.80" r="1.7" fill="#245a24"/>
<text x="320.3" y="51.70" font-family="Liberation Serif" font-size="12.6">5.7</text>
<line x1="292.2" y1="61.45" x2="307.2" y2="61.45" stroke="#888" stroke-width="1"/>
<circle cx="299.70" cy="61.45" r="1.7" fill="#141480"/>
<text x="320.3" y="65.35" font-family="Liberation Serif" font-size="12.6">6.5</text>
<line x1="292.2" y1="75.10" x2="307.2" y2="75.10" stroke="#80e0e0" stroke-width="1"/>
<circle cx="299.70" cy="75.10" r="1.7" fill="#40d4d0"/>
<text x="320.3" y="79.00" font-family="Liberation Serif" font-size="12.6">7.3</text>
<line x1="292.2" y1="88.75" x2="307.2" y2="88.75" stroke="#888" stroke-width="1"/>
<circle cx="299.70" cy="88.75" r="1.7" fill="#501818"/>
<text x="320.3" y="92.65" font-family="Liberation Serif" font-size="12.6">10</text>
<line x1="292.2" y1="102.40" x2="307.2" y2="102.40" stroke="#8aa" stroke-width="1"/>
<circle cx="299.70" cy="102.40" r="1.7" fill="#2a6262"/>
<text x="320.3" y="106.30" font-family="Liberation Serif" font-size="12.6">12</text>
<text x="497.0" y="34.0" font-family="Liberation Serif" font-size="14" font-style="italic" font-weight="bold">s</text>
<line x1="468.5" y1="47.30" x2="483.0" y2="47.30" stroke="#555" stroke-width="1"/>
<circle cx="475.75" cy="47.30" r="1.5" fill="#000000"/>
<text x="496.4" y="51.20" font-family="Liberation Serif" font-size="12.6">1.8</text>
<line x1="468.5" y1="60.85" x2="483.0" y2="60.85" stroke="#999" stroke-width="1"/>
<circle cx="475.75" cy="60.85" r="1.5" fill="#6a6a6a"/>
<text x="496.4" y="64.75" font-family="Liberation Serif" font-size="12.6">3</text>
<line x1="468.5" y1="74.40" x2="483.0" y2="74.40" stroke="#f08080" stroke-width="1"/>
<circle cx="475.75" cy="74.40" r="1.5" fill="#b01020"/>
<text x="496.4" y="78.30" font-family="Liberation Serif" font-size="12.6">3.7</text>
<line x1="468.5" y1="87.95" x2="483.0" y2="87.95" stroke="#70b070" stroke-width="1"/>
<circle cx="475.75" cy="87.95" r="1.5" fill="#145a14"/>
<text x="496.4" y="91.85" font-family="Liberation Serif" font-size="12.6">5.7</text>
<line x1="468.5" y1="101.50" x2="483.0" y2="101.50" stroke="#b070c0" stroke-width="1"/>
<circle cx="475.75" cy="101.50" r="1.5" fill="#5a1a6a"/>
<text x="496.4" y="105.40" font-family="Liberation Serif" font-size="12.6">6.2</text>
</svg>
</body></html>
